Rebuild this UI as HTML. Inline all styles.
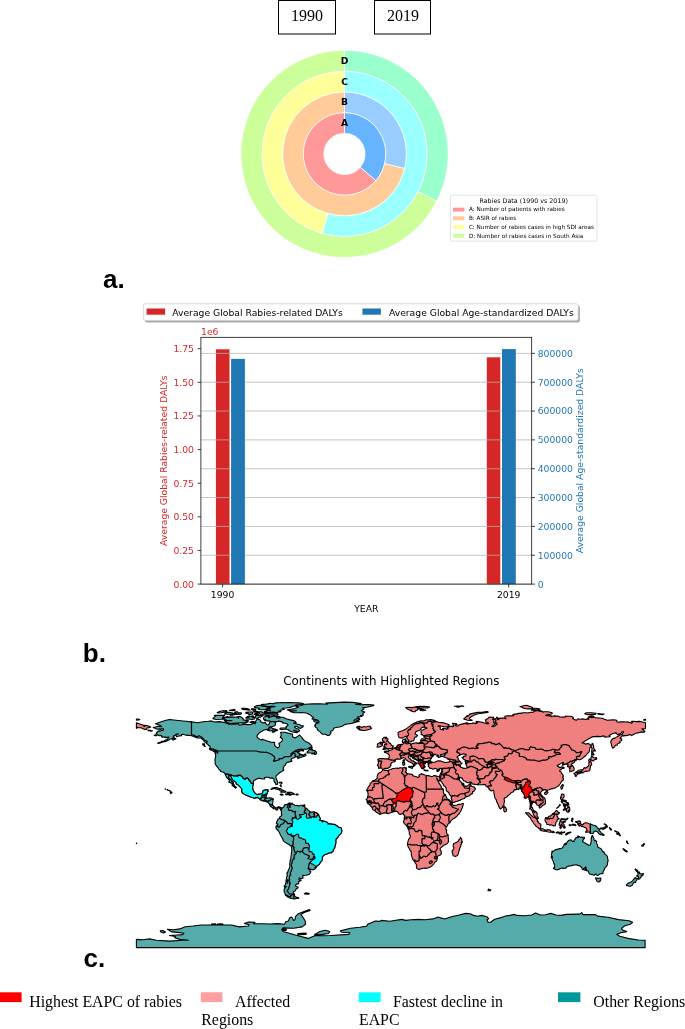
<!DOCTYPE html>
<html><head><meta charset="utf-8"><title>Rabies figure</title>
<style>
html,body{margin:0;padding:0;background:#fff;}
body{width:685px;height:1029px;overflow:hidden;position:relative;}
svg{position:absolute;left:0;top:0;display:block;}
svg text{font-family:'DejaVu Sans','Liberation Sans',sans-serif;}
.ser{font-family:'Liberation Serif','DejaVu Serif',serif;font-size:16px;fill:#000;}
.lab{font-family:'Liberation Sans','DejaVu Sans',sans-serif;font-weight:bold;font-size:26px;fill:#000;}
</style></head><body>
<svg width="685" height="1029" viewBox="0 0 685 1029">
<rect width="685" height="1029" fill="#fff"/>
<!-- year boxes -->
<rect x="278.5" y="0.5" width="57" height="33.5" fill="#fff" stroke="#000" stroke-width="1"/>
<rect x="374.5" y="0.5" width="56" height="33.5" fill="#fff" stroke="#000" stroke-width="1"/>
<text class="ser" x="307" y="21.2" text-anchor="middle">1990</text>
<text class="ser" x="403" y="21.2" text-anchor="middle">2019</text>
<!-- donut -->
<g>
<path d="M344.50 112.58A41.32 41.32 0 0 1 375.92 180.74L360.21 167.32A20.66 20.66 0 0 0 344.50 133.24Z" fill="#66b3ff" stroke="#fff" stroke-width="0.7" stroke-linejoin="round"/>
<path d="M375.92 180.74A41.32 41.32 0 1 1 344.50 112.58L344.50 133.24A20.66 20.66 0 1 0 360.21 167.32Z" fill="#ff9999" stroke="#fff" stroke-width="0.7" stroke-linejoin="round"/>
<path d="M344.50 91.92A61.98 61.98 0 0 1 404.72 168.58L384.64 163.69A41.32 41.32 0 0 0 344.50 112.58Z" fill="#99ccff" stroke="#fff" stroke-width="0.7" stroke-linejoin="round"/>
<path d="M404.72 168.58A61.98 61.98 0 1 1 344.50 91.92L344.50 112.58A41.32 41.32 0 1 0 384.64 163.69Z" fill="#ffcc99" stroke="#fff" stroke-width="0.7" stroke-linejoin="round"/>
<path d="M344.50 71.26A82.64 82.64 0 1 1 322.28 233.50L327.83 213.60A61.98 61.98 0 1 0 344.50 91.92Z" fill="#99ffff" stroke="#fff" stroke-width="0.7" stroke-linejoin="round"/>
<path d="M322.28 233.50A82.64 82.64 0 0 1 344.50 71.26L344.50 91.92A61.98 61.98 0 0 0 327.83 213.60Z" fill="#ffff99" stroke="#fff" stroke-width="0.7" stroke-linejoin="round"/>
<path d="M344.50 50.30A103.60 103.60 0 0 1 436.64 201.26L418.00 191.67A82.64 82.64 0 0 0 344.50 71.26Z" fill="#99ffcc" stroke="#fff" stroke-width="0.7" stroke-linejoin="round"/>
<path d="M436.64 201.26A103.60 103.60 0 1 1 344.50 50.30L344.50 71.26A82.64 82.64 0 1 0 418.00 191.67Z" fill="#ccff99" stroke="#fff" stroke-width="0.7" stroke-linejoin="round"/>
<text x="344.5" y="126.0" text-anchor="middle" font-family="'DejaVu Sans','Liberation Sans',sans-serif" font-weight="bold" font-size="9.2">A</text>
<text x="344.5" y="105.4" text-anchor="middle" font-family="'DejaVu Sans','Liberation Sans',sans-serif" font-weight="bold" font-size="9.2">B</text>
<text x="344.5" y="84.7" text-anchor="middle" font-family="'DejaVu Sans','Liberation Sans',sans-serif" font-weight="bold" font-size="9.2">C</text>
<text x="344.5" y="64.0" text-anchor="middle" font-family="'DejaVu Sans','Liberation Sans',sans-serif" font-weight="bold" font-size="9.2">D</text>
</g>
<!-- donut legend -->
<g font-size="5.7">
<rect x="450.5" y="195.2" width="146.4" height="46" rx="1.2" fill="#fff" stroke="#d0d0d0" stroke-width="0.6"/>
<text x="523.7" y="203.3" text-anchor="middle" font-size="6.33">Rabies Data (1990 vs 2019)</text>
<rect x="453" y="207.7" width="11.4" height="3.9" fill="#ff9999"/>
<text x="468.9" y="211.4">A: Number of patients with rabies</text>
<rect x="453" y="216.3" width="11.4" height="3.9" fill="#ffcc99"/>
<text x="468.9" y="220.1">B: ASIR of rabies</text>
<rect x="453" y="225.0" width="11.4" height="3.9" fill="#ffff99"/>
<text x="468.9" y="228.9">C: Number of rabies cases in high SDI areas</text>
<rect x="453" y="233.8" width="11.4" height="3.9" fill="#ccff99"/>
<text x="468.9" y="237.6">D: Number of rabies cases in South Asia</text>
</g>
<text class="lab" x="103.1" y="287.5">a.</text>
<!-- bar chart -->
<g>
<rect x="215.90" y="349.30" width="13.60" height="234.80" fill="#d62728"/>
<rect x="486.80" y="357.30" width="13.50" height="226.80" fill="#d62728"/>
<line x1="200.9" x2="531.7" y1="584.10" y2="584.10" stroke="#b0b0b0" stroke-width="0.75"/>
<line x1="200.9" x2="531.7" y1="555.26" y2="555.26" stroke="#b0b0b0" stroke-width="0.75"/>
<line x1="200.9" x2="531.7" y1="526.42" y2="526.42" stroke="#b0b0b0" stroke-width="0.75"/>
<line x1="200.9" x2="531.7" y1="497.58" y2="497.58" stroke="#b0b0b0" stroke-width="0.75"/>
<line x1="200.9" x2="531.7" y1="468.74" y2="468.74" stroke="#b0b0b0" stroke-width="0.75"/>
<line x1="200.9" x2="531.7" y1="439.90" y2="439.90" stroke="#b0b0b0" stroke-width="0.75"/>
<line x1="200.9" x2="531.7" y1="411.06" y2="411.06" stroke="#b0b0b0" stroke-width="0.75"/>
<line x1="200.9" x2="531.7" y1="382.22" y2="382.22" stroke="#b0b0b0" stroke-width="0.75"/>
<line x1="200.9" x2="531.7" y1="353.38" y2="353.38" stroke="#b0b0b0" stroke-width="0.75"/>
<rect x="231.10" y="358.90" width="13.80" height="225.20" fill="#1f77b4"/>
<rect x="502.00" y="349.10" width="13.80" height="235.00" fill="#1f77b4"/>
<rect x="200.9" y="337.3" width="330.80" height="246.80" fill="none" stroke="#000" stroke-width="0.75"/>
<line x1="197.6" x2="200.9" y1="584.10" y2="584.10" stroke="#000" stroke-width="0.75"/>
<text x="194.0" y="587.50" text-anchor="end" fill="#d62728" font-size="9.24">0.00</text>
<line x1="197.6" x2="200.9" y1="550.47" y2="550.47" stroke="#000" stroke-width="0.75"/>
<text x="194.0" y="553.87" text-anchor="end" fill="#d62728" font-size="9.24">0.25</text>
<line x1="197.6" x2="200.9" y1="516.84" y2="516.84" stroke="#000" stroke-width="0.75"/>
<text x="194.0" y="520.24" text-anchor="end" fill="#d62728" font-size="9.24">0.50</text>
<line x1="197.6" x2="200.9" y1="483.21" y2="483.21" stroke="#000" stroke-width="0.75"/>
<text x="194.0" y="486.61" text-anchor="end" fill="#d62728" font-size="9.24">0.75</text>
<line x1="197.6" x2="200.9" y1="449.58" y2="449.58" stroke="#000" stroke-width="0.75"/>
<text x="194.0" y="452.98" text-anchor="end" fill="#d62728" font-size="9.24">1.00</text>
<line x1="197.6" x2="200.9" y1="415.95" y2="415.95" stroke="#000" stroke-width="0.75"/>
<text x="194.0" y="419.35" text-anchor="end" fill="#d62728" font-size="9.24">1.25</text>
<line x1="197.6" x2="200.9" y1="382.32" y2="382.32" stroke="#000" stroke-width="0.75"/>
<text x="194.0" y="385.72" text-anchor="end" fill="#d62728" font-size="9.24">1.50</text>
<line x1="197.6" x2="200.9" y1="348.69" y2="348.69" stroke="#000" stroke-width="0.75"/>
<text x="194.0" y="352.09" text-anchor="end" fill="#d62728" font-size="9.24">1.75</text>
<line x1="531.7" x2="535.0" y1="584.10" y2="584.10" stroke="#000" stroke-width="0.75"/>
<text x="537.7" y="587.50" fill="#1f77b4" font-size="9.24">0</text>
<line x1="531.7" x2="535.0" y1="555.26" y2="555.26" stroke="#000" stroke-width="0.75"/>
<text x="537.7" y="558.66" fill="#1f77b4" font-size="9.24">100000</text>
<line x1="531.7" x2="535.0" y1="526.42" y2="526.42" stroke="#000" stroke-width="0.75"/>
<text x="537.7" y="529.82" fill="#1f77b4" font-size="9.24">200000</text>
<line x1="531.7" x2="535.0" y1="497.58" y2="497.58" stroke="#000" stroke-width="0.75"/>
<text x="537.7" y="500.98" fill="#1f77b4" font-size="9.24">300000</text>
<line x1="531.7" x2="535.0" y1="468.74" y2="468.74" stroke="#000" stroke-width="0.75"/>
<text x="537.7" y="472.14" fill="#1f77b4" font-size="9.24">400000</text>
<line x1="531.7" x2="535.0" y1="439.90" y2="439.90" stroke="#000" stroke-width="0.75"/>
<text x="537.7" y="443.30" fill="#1f77b4" font-size="9.24">500000</text>
<line x1="531.7" x2="535.0" y1="411.06" y2="411.06" stroke="#000" stroke-width="0.75"/>
<text x="537.7" y="414.46" fill="#1f77b4" font-size="9.24">600000</text>
<line x1="531.7" x2="535.0" y1="382.22" y2="382.22" stroke="#000" stroke-width="0.75"/>
<text x="537.7" y="385.62" fill="#1f77b4" font-size="9.24">700000</text>
<line x1="531.7" x2="535.0" y1="353.38" y2="353.38" stroke="#000" stroke-width="0.75"/>
<text x="537.7" y="356.78" fill="#1f77b4" font-size="9.24">800000</text>
<line x1="222.6" x2="222.6" y1="584.1" y2="587.4" stroke="#000" stroke-width="0.75"/>
<text x="222.6" y="597.60" text-anchor="middle" font-size="9.24">1990</text>
<line x1="508.7" x2="508.7" y1="584.1" y2="587.4" stroke="#000" stroke-width="0.75"/>
<text x="508.7" y="597.60" text-anchor="middle" font-size="9.24">2019</text>
<text x="201" y="334.5" fill="#d62728" font-size="9.24">1e6</text>
<text x="366.3" y="611.5" text-anchor="middle" font-size="9.24">YEAR</text>
<text transform="translate(167.2 460.7) rotate(-90)" text-anchor="middle" fill="#d62728" font-size="9.24">Average Global Rabies-related DALYs</text>
<text transform="translate(583.0 460.7) rotate(-90)" text-anchor="middle" fill="#1f77b4" font-size="9.24">Average Global Age-standardized DALYs</text>
<rect x="145" y="305.7" width="434.9" height="16.8" rx="2" fill="#a9a9a9"/>
<rect x="143.3" y="303.8" width="434.8" height="16.6" rx="2" fill="#fff" stroke="#ccc" stroke-width="0.75"/>
<rect x="146.60" y="308.50" width="18.50" height="6.20" fill="#d62728"/>
<text x="172.2" y="315.5" font-size="9.24">Average Global Rabies-related DALYs</text>
<rect x="362.40" y="308.50" width="18.50" height="6.20" fill="#1f77b4"/>
<text x="388.9" y="315.5" font-size="9.24">Average Global Age-standardized DALYs</text>
</g>
<text class="lab" x="82.8" y="661.8">b.</text>
<!-- map -->
<text x="391.3" y="684.5" text-anchor="middle" font-size="11.9">Continents with Highlighted Regions</text>
<g id="map">
<path d="M153.4 727.5L158.3 726.3L161.8 726.7L159.7 725.3L155.5 723.7L160.4 722.0L166.1 720.2L169.6 719.5L176.0 720.2L183.1 721.0L191.5 721.9L197.9 722.7L201.4 722.0L208.5 721.3L211.3 720.9L214.2 722.0L219.8 721.6L225.5 722.7L228.3 724.1L235.4 724.3L238.2 723.7L239.6 725.3L243.9 724.1L247.4 724.6L251.7 724.4L252.4 723.0L255.2 723.9L255.2 722.0L257.3 718.8L260.1 719.9L260.8 721.7L263.0 723.0L265.1 722.4L266.5 724.4L267.9 725.1L269.3 723.9L270.0 721.7L274.3 721.7L275.7 723.0L275.0 725.5L272.2 726.7L269.3 726.7L268.6 729.1L265.8 729.6L263.0 730.5L259.4 732.8L257.3 735.2L257.0 737.1L259.7 739.4L260.4 739.7L263.0 739.4L266.5 740.7L270.7 742.1L274.6 742.4L274.7 745.5L276.1 746.9L278.1 747.9L279.7 746.2L278.9 743.5L281.8 741.4L282.6 739.0L280.2 737.3L281.3 735.2L280.6 732.2L284.9 732.2L289.8 733.6L292.4 734.0L292.7 736.9L295.2 738.0L298.3 735.9L299.6 735.0L301.9 737.6L304.0 740.4L306.1 741.8L308.9 742.9L310.3 744.4L312.0 746.1L309.9 747.6L306.8 749.2L303.3 749.3L299.0 749.3L296.2 750.3L293.4 751.9L290.5 754.1L294.1 751.9L299.0 750.7L299.9 751.4L297.3 752.4L299.3 753.5L299.6 755.0L303.3 755.5L305.4 753.8L306.1 755.2L304.4 756.2L301.1 757.2L297.9 758.6L297.3 757.5L299.3 756.1L296.2 756.5L294.1 757.7L291.7 758.6L290.8 759.9L292.0 761.2L290.3 761.6L287.0 762.5L286.3 763.3L285.2 765.1L284.2 765.9L283.6 767.7L283.0 768.0L283.8 770.0L282.1 771.4L279.9 772.5L277.8 774.3L276.1 775.8L275.8 777.6L277.1 780.4L277.7 782.4L277.4 784.5L276.1 784.7L275.3 783.1L274.0 781.1L274.0 779.3L272.4 777.9L270.3 778.3L268.6 777.3L266.1 777.3L264.4 777.6L264.7 779.0L262.5 779.0L260.1 778.4L258.0 778.4L256.2 779.3L253.8 780.7L253.2 782.1L253.5 783.7L252.8 785.9L252.6 788.5L253.3 790.9L254.8 793.0L255.9 793.9L257.3 794.6L259.7 794.1L261.7 793.7L262.7 792.7L263.1 790.6L265.8 789.9L267.9 789.9L268.2 790.9L267.2 792.4L266.8 794.3L266.1 794.3L266.4 795.6L266.1 797.0L265.2 797.8L266.2 798.1L267.9 798.0L269.6 797.8L271.5 798.0L273.3 799.1L272.9 801.2L272.7 802.9L272.4 804.7L273.6 806.2L274.7 807.3L275.7 807.9L277.1 807.4L278.4 806.7L279.9 807.0L281.5 808.0L280.8 810.1L280.1 808.8L279.1 807.6L278.2 808.1L277.2 808.6L277.8 809.7L276.5 810.1L275.4 808.8L273.7 808.7L272.7 808.0L271.2 806.7L270.6 806.7L269.8 805.0L269.8 804.6L267.9 802.3L266.9 801.9L265.4 801.5L263.5 800.9L261.8 800.6L260.6 799.8L258.2 797.7L257.0 797.4L254.5 798.1L252.4 797.5L250.0 796.7L247.1 795.4L244.6 794.4L242.5 793.0L241.5 791.5L242.0 790.0L241.5 788.5L239.8 786.6L237.7 784.7L236.2 783.8L236.2 782.5L234.7 781.4L233.7 780.8L232.3 779.3L231.0 776.7L231.0 776.2L228.6 775.3L228.7 777.6L230.7 779.6L231.4 781.0L233.1 782.5L233.5 784.0L234.4 785.9L236.2 787.5L235.4 787.9L234.1 786.4L232.3 785.4L232.3 783.5L230.4 782.4L229.0 782.0L229.4 780.6L229.4 779.9L227.6 778.4L225.9 775.6L225.3 774.3L225.1 773.5L223.5 772.2L220.7 771.5L220.4 770.5L218.8 769.1L217.7 767.3L216.0 765.3L215.0 763.3L215.3 762.2L214.9 759.8L215.6 757.2L215.7 755.0L215.4 754.0L214.6 752.1L216.9 752.3L217.6 753.4L218.0 752.4L217.3 751.0L217.0 750.6L214.3 749.6L213.3 749.0L210.8 748.5L209.9 747.2L210.1 746.3L208.4 745.6L208.1 744.5L206.4 743.5L206.4 742.8L205.5 742.2L204.3 741.8L203.9 740.5L202.2 739.4L201.3 738.1L200.0 738.0L197.8 738.0L196.1 737.6L193.1 736.2L189.3 735.3L187.3 735.4L184.6 734.7L182.9 734.2L181.4 734.5L181.6 735.6L179.2 735.9L178.0 736.3L176.4 736.6L176.1 734.5L178.4 733.9L176.1 734.2L175.1 735.3L173.2 736.3L174.2 737.0L172.9 738.1L171.3 738.7L169.9 739.1L169.5 739.7L167.4 740.4L166.9 741.1L165.2 741.7L164.3 741.7L163.0 742.0L161.6 742.5L160.3 742.9L157.9 743.4L157.7 743.1L159.3 742.5L160.6 742.1L162.1 741.2L163.8 741.1L164.5 740.5L166.5 739.7L166.8 739.4L167.9 738.8L168.1 737.9L168.9 737.0L167.2 737.4L166.8 737.1L166.0 737.7L165.1 737.0L164.7 737.4L164.1 736.7L162.7 737.3L161.8 737.3L161.7 736.4L162.0 736.0L161.1 735.4L159.3 735.7L158.0 735.0L157.2 734.7L157.0 733.9L156.1 733.3L156.6 732.5L157.7 731.8L158.2 731.1L159.3 730.9L160.3 731.1L161.4 730.5L162.6 730.5L163.5 730.1L163.3 729.5L162.6 729.2L163.5 728.7L162.7 728.7L161.1 728.9L160.7 729.4L159.7 728.9L157.7 729.2L155.6 728.8L155.1 728.2L153.2 727.4ZM287.7 709.7L294.8 708.6L298.3 707.2L296.2 706.5L301.1 705.5L304.7 704.3L313.2 703.9L320.2 703.8L327.3 704.2L325.9 703.1L334.4 702.6L344.3 702.1L352.8 702.4L361.3 703.5L355.6 704.3L359.8 704.8L368.3 704.6L374.0 705.0L373.3 705.7L366.9 707.2L362.7 707.6L364.1 708.9L361.3 710.7L364.8 712.0L362.7 713.5L363.4 715.2L360.5 715.5L362.0 716.5L357.7 716.8L359.4 718.2L356.3 718.2L359.8 719.3L357.7 720.6L354.9 719.5L353.8 721.0L357.3 721.2L359.4 721.2L355.6 722.3L351.8 723.4L347.5 724.0L344.6 724.6L342.6 726.0L339.6 727.0L337.9 727.2L334.7 727.8L333.4 728.7L333.4 729.6L332.7 730.5L330.4 731.6L331.0 732.8L329.6 735.3L327.6 735.4L325.5 734.2L322.6 734.2L321.4 733.5L320.4 732.1L318.0 730.4L317.3 729.4L317.0 728.1L315.0 726.8L315.6 725.8L314.6 725.3L316.0 723.6L318.1 723.1L318.8 722.6L319.0 721.4L316.7 722.3L314.6 722.0L313.6 720.9L314.2 720.2L315.4 720.2L318.3 720.5L315.9 719.6L314.6 719.2L313.2 719.3L312.0 718.9L313.6 717.6L312.7 717.1L311.6 716.2L309.9 714.7L308.1 714.1L308.1 713.5L304.3 712.7L301.3 712.5L297.5 712.7L294.1 712.7L292.4 712.3L290.0 711.4L293.7 711.0L296.5 710.8L290.5 710.6L287.3 710.0ZM281.5 808.0L282.3 808.1L283.3 807.1L283.9 807.0L284.2 805.3L285.0 804.6L285.9 804.6L287.1 804.5L288.8 803.3L289.4 802.8L290.0 802.8L290.4 803.2L289.3 804.2L289.7 804.7L289.7 805.6L289.0 806.3L289.6 807.4L290.1 807.4L290.5 806.3L290.0 805.9L290.0 804.7L291.7 804.2L291.5 803.6L292.1 803.0L292.5 804.0L293.5 804.2L294.5 804.9L294.5 805.3L295.8 805.5L297.3 805.3L298.0 805.9L299.2 806.0L300.0 805.6L300.0 805.3L303.4 805.2L302.3 805.6L302.7 806.3L303.8 806.3L305.0 807.0L305.1 808.1L305.8 808.1L306.4 808.4L307.4 809.0L308.2 810.0L308.2 810.7L308.8 810.7L309.6 811.4L310.2 811.8L311.9 812.1L312.0 812.0L313.2 811.8L314.6 812.1L315.1 812.4L316.1 812.7L317.7 813.8L317.8 814.4L318.4 814.4L318.7 815.1L319.5 817.6L320.2 817.9L320.4 818.9L319.3 820.0L319.7 820.4L322.2 820.6L322.2 822.0L323.4 821.1L325.0 821.6L327.5 822.6L328.2 823.3L327.9 824.1L329.6 823.7L332.3 824.4L334.4 824.4L336.5 825.5L338.3 827.1L339.3 827.5L340.6 827.5L341.2 828.1L341.6 829.8L341.9 830.6L341.3 833.0L340.6 833.9L338.6 835.9L337.6 837.6L336.6 838.7L336.2 838.8L335.8 839.8L335.9 842.5L335.5 844.6L334.9 846.2L334.7 848.0L333.3 849.9L333.1 851.3L331.8 852.0L331.6 852.8L330.0 852.8L327.9 853.4L326.7 854.0L325.2 854.4L323.6 855.5L322.4 856.9L322.2 857.9L322.4 858.8L322.1 860.2L321.8 860.9L320.8 861.6L319.3 864.1L318.0 865.3L317.0 865.8L316.4 867.3L315.4 868.1L314.9 868.9L313.3 869.8L312.2 869.5L311.5 869.7L310.2 868.9L309.2 869.1L308.4 868.2L308.2 868.9L310.1 870.2L309.8 871.2L310.8 871.8L310.6 872.5L309.4 874.3L307.2 875.0L304.4 875.5L302.8 875.2L303.1 876.0L302.8 877.2L303.1 877.9L302.3 878.3L300.7 878.6L299.5 878.0L298.9 878.4L299.0 879.8L300.0 880.3L300.7 879.7L301.1 880.5L299.9 881.0L298.7 881.8L298.6 883.2L298.2 883.9L296.9 883.9L295.8 884.8L295.4 885.8L296.8 886.8L298.2 887.1L297.6 888.3L295.9 889.2L295.1 890.9L293.8 891.4L293.2 892.0L293.7 893.6L294.6 894.3L293.9 894.3L292.9 894.5L290.8 895.1L290.0 896.5L290.5 896.4L290.4 896.8L288.6 896.2L286.7 895.0L285.0 894.3L284.9 893.3L284.0 891.6L284.2 889.2L286.2 886.6L284.6 887.8L285.3 886.6L284.0 886.2L285.3 885.1L285.7 882.7L287.4 883.2L288.1 880.3L287.1 879.8L286.7 881.7L285.9 881.4L286.3 879.4L286.7 876.7L287.4 875.9L287.0 874.5L286.9 872.9L287.4 872.8L288.3 870.5L289.3 868.2L290.0 866.1L289.6 864.0L290.0 862.9L290.0 861.2L290.7 859.3L291.0 856.6L291.4 853.7L291.8 850.6L291.7 848.3L291.4 846.2L290.0 845.5L289.8 844.9L287.1 843.5L284.6 841.9L283.5 840.9L282.9 839.8L283.0 839.4L281.9 837.6L280.5 835.0L279.2 832.2L278.7 831.5L278.1 830.5L277.1 829.5L276.1 828.9L276.5 828.4L275.8 826.9L276.3 826.0L277.4 825.1L277.8 824.5L278.1 824.1L277.2 824.1L276.4 823.4L276.7 823.1L276.5 821.9L277.0 821.6L277.2 820.7L277.8 819.7L277.7 819.2L278.5 818.9L279.4 818.3L279.8 817.8L279.7 817.0L280.1 816.6L280.8 816.5L281.9 814.9L281.3 814.5L281.6 813.7L281.3 812.4L281.6 812.1L281.3 810.8L280.8 810.1ZM293.9 894.7L294.4 895.4L295.1 896.5L296.9 897.4L298.9 897.7L298.3 898.4L296.9 898.5L296.2 898.5L294.6 898.9L293.9 898.9L293.1 898.8L292.0 898.4L290.5 898.2L288.7 897.4L287.3 896.7L285.3 895.0L286.6 895.3L288.6 896.2L290.4 896.8L291.1 896.1L291.5 895.1L292.9 894.5ZM304.4 893.7L306.1 892.8L307.2 893.0L309.2 893.3L308.8 894.3L306.9 894.1L306.2 893.7L305.1 894.3ZM136.4 939.2L136.8 939.4L143.1 939.8L149.7 938.9L156.3 940.2L169.4 941.1L182.6 940.2L188.5 940.2L179.9 939.4L174.7 937.8L175.3 936.5L169.4 935.5L177.3 935.0L182.6 934.6L183.9 933.2L179.9 932.6L172.0 931.9L167.4 929.3L173.4 929.7L179.9 928.9L185.2 926.7L193.1 926.0L200.9 925.0L205.0 925.0L222.1 924.7L231.3 925.0L239.2 926.9L248.4 926.0L249.0 924.7L244.4 923.4L248.4 922.1L254.9 922.3L253.6 923.7L262.8 923.7L270.0 924.0L277.9 923.6L284.5 924.3L285.8 921.7L288.4 921.0L289.7 917.7L291.7 917.1L293.6 920.4L295.0 919.7L295.6 916.4L298.2 913.8L302.8 912.1L309.4 909.5L310.1 910.5L304.2 912.5L300.9 914.5L302.8 917.1L305.2 921.0L305.5 924.3L302.2 926.9L293.6 928.2L283.1 927.9L281.8 929.6L283.1 931.5L296.3 935.2L308.1 938.4L314.7 935.7L322.6 935.7L330.4 935.5L348.8 934.4L349.9 932.8L341.6 932.2L340.3 930.9L350.5 928.2L359.7 927.3L366.3 926.3L368.2 923.9L375.5 921.0L379.4 921.4L381.4 920.4L389.9 921.3L401.8 919.4L405.7 920.4L410.9 919.7L418.8 919.4L425.0 919.7L432.9 918.9L438.1 917.1L444.7 919.0L451.3 916.7L459.2 915.0L465.7 913.4L470.3 913.7L473.6 915.4L477.6 916.3L481.5 915.4L486.8 916.7L488.7 918.6L487.0 920.0L488.1 922.3L490.7 922.3L494.6 919.3L501.2 917.6L506.5 915.8L510.0 915.4L514.6 914.4L516.6 915.4L524.5 915.8L531.7 915.0L535.6 913.1L540.2 915.0L545.5 914.7L550.7 913.4L556.0 915.0L561.2 915.4L566.5 914.4L579.6 914.1L581.7 912.6L583.0 914.6L595.2 914.5L597.5 916.1L608.0 917.3L618.5 919.6L629.1 920.8L632.6 922.3L630.2 924.3L624.4 926.0L621.5 928.4L622.6 930.1L626.7 931.6L620.9 932.8L616.8 934.2L619.7 936.3L629.1 938.6L638.4 940.0L645.1 940.3L645.1 947.6L136.4 947.6ZM314.7 934.4L319.9 931.5L325.2 930.2L329.8 931.5L328.5 933.5L322.6 934.4L314.7 934.9ZM297.6 933.5L306.1 933.1L306.1 934.4L298.2 934.8ZM283.1 929.2L286.4 929.6L286.0 930.5L283.1 930.2ZM160.2 930.9L162.8 930.6L165.5 931.9L163.5 932.9L160.9 931.9ZM211.5 924.1L215.4 923.8L216.1 924.5L212.1 924.6ZM217.5 924.0L222.5 923.8L223.0 924.5L218.0 924.6ZM277.8 716.1L280.6 717.2L283.0 717.3L286.0 718.8L290.3 719.9L293.7 720.6L294.9 721.2L296.2 722.4L293.7 723.1L297.0 724.0L299.2 724.4L301.3 725.7L303.4 725.7L303.0 726.7L300.6 728.4L298.9 727.8L296.6 726.4L294.8 726.5L294.6 727.4L296.1 728.2L298.0 728.9L298.6 729.2L299.5 730.6L299.0 731.6L297.2 731.3L293.7 730.2L295.6 731.3L297.2 732.2L297.3 732.8L293.5 732.2L290.5 731.3L288.8 730.6L289.3 730.2L287.1 729.5L285.2 728.8L285.2 729.2L281.1 729.5L279.8 728.9L280.8 728.0L283.5 728.0L286.3 727.7L285.9 727.0L286.4 726.5L288.1 725.1L287.9 724.6L287.3 724.0L285.2 723.3L282.2 722.9L283.2 722.6L281.6 721.6L280.4 721.6L279.2 721.0L278.5 721.4L276.0 721.7L270.9 721.3L267.8 720.9L265.5 720.7L264.4 720.2L265.8 719.6L263.8 719.6L263.4 718.2L264.5 716.9L265.9 716.4L269.6 715.9L268.5 717.3L269.3 717.8L270.9 716.6L274.6 715.9L277.0 717.5L276.8 718.3L279.5 717.9L280.9 717.5L276.5 716.6L276.7 716.1ZM226.2 722.2L229.9 723.6L236.8 723.0L240.3 722.9L243.4 722.9L246.7 722.6L247.4 721.4L245.3 720.6L248.1 720.9L248.3 721.3L245.7 722.0L248.0 721.9L247.4 722.0L248.3 720.5L243.2 719.9L243.2 718.8L241.9 717.5L239.8 716.4L237.9 716.9L238.6 718.3L237.7 716.9L235.4 717.2L234.1 717.1L229.4 716.9L228.7 717.5L224.2 717.5L228.0 716.6L222.4 719.0L224.5 719.5L227.0 720.3L232.0 720.7L229.2 720.5L224.2 720.6L226.8 722.4ZM212.9 718.6L216.2 719.5L220.5 719.3L222.7 719.0L228.0 716.6L224.2 717.5L222.4 717.8L224.6 715.4L221.1 715.4L214.3 715.2L215.6 716.1L214.3 717.1L212.9 718.6ZM224.5 714.0L226.5 712.5L227.8 712.1L231.7 712.7L234.3 713.5L236.7 713.5L234.7 712.3L236.0 711.7L237.5 711.8L237.9 712.5L238.5 713.1L239.8 712.8L241.2 712.8L241.5 713.5L240.6 714.2L235.8 714.4L232.3 715.1L230.2 715.1L229.9 714.7L232.8 714.0L226.5 714.2ZM249.0 715.9L247.4 716.5L249.0 717.5L246.8 717.1L245.9 717.8L246.6 718.9L250.5 719.3L251.8 719.5L254.5 719.0L254.2 718.5L254.5 717.6L251.8 716.9L253.6 716.4L253.2 715.9L250.7 716.2L249.0 715.9ZM259.1 717.3L257.6 718.5L256.0 718.3L255.2 717.2L255.2 716.5L255.9 715.8L257.3 715.5L260.3 715.5L263.0 715.8L260.8 717.1L259.1 717.3ZM257.0 711.3L258.6 711.7L261.4 711.7L262.7 712.3L262.3 712.7L264.0 713.1L264.8 713.4L266.8 713.4L268.8 713.5L271.0 713.2L273.9 713.1L276.3 713.2L277.7 713.8L278.1 714.4L277.1 714.7L275.1 715.1L273.3 714.8L269.2 715.1L266.2 715.1L264.0 714.9L260.3 714.5L259.7 713.7L259.6 713.0L258.2 712.4L255.2 712.3L253.6 711.7L254.2 711.1ZM251.7 711.8L252.8 712.4L252.8 713.2L252.1 714.2L249.8 714.4L248.3 714.1L248.3 713.4L246.0 713.4L245.9 712.4L249.0 712.0L251.5 712.0ZM283.6 708.2L283.2 708.6L284.3 709.3L283.0 709.7L280.8 710.1L280.1 710.7L278.1 711.1L278.4 711.4L280.8 711.4L280.8 711.7L277.0 712.5L273.3 712.1L269.2 712.4L267.1 712.3L264.4 712.1L264.2 711.5L266.8 711.1L266.1 710.1L266.9 710.0L270.7 710.7L268.9 709.7L266.5 709.4L267.6 708.9L270.2 708.6L270.6 708.2L268.6 707.6L268.1 706.7L271.9 706.9L273.0 707.0L275.3 706.5L272.0 706.3L267.1 706.5L264.5 705.9L263.4 705.3L261.7 704.9L261.4 704.5L263.5 704.2L265.2 704.2L267.9 703.9L270.0 703.3L271.7 703.5L273.3 703.9L274.4 703.1L276.3 702.9L278.8 702.8L283.0 702.6L283.9 702.8L288.0 702.6L291.0 702.6L294.1 702.8L297.9 702.9L300.9 703.1L303.4 703.5L303.4 703.8L300.0 704.5L296.5 704.8L295.2 705.0L298.3 705.0L295.1 705.9L292.7 706.3L290.3 707.4L287.4 707.7L286.4 708.0L282.2 708.2ZM255.2 706.3L256.2 705.9L257.6 705.8L257.0 705.5L260.3 705.3L262.1 706.2L264.4 706.5L266.8 706.7L267.9 707.6L269.6 708.2L267.6 708.6L265.1 709.6L262.5 709.7L259.6 709.6L258.1 708.9L258.2 708.4L259.3 708.0L256.6 708.0L255.0 707.6L254.2 706.9ZM270.5 727.4L270.8 728.1L271.5 727.8L272.3 728.2L273.9 728.7L275.6 729.1L275.6 729.8L276.7 729.6L277.7 730.2L276.4 730.6L274.3 730.2L273.4 729.6L272.0 730.4L270.0 731.1L269.5 730.4L267.6 730.5L268.8 729.8L269.0 728.7L269.5 727.4ZM312.3 747.8L311.6 748.6L310.6 749.9L311.6 749.3L312.5 749.7L312.0 750.2L313.3 750.6L313.9 750.2L315.3 750.7L314.9 751.7L315.9 751.4L316.1 752.1L316.6 753.1L315.9 754.3L315.3 754.4L314.3 754.1L314.6 753.0L314.3 752.7L312.6 754.0L311.8 754.0L312.7 753.3L311.3 753.0L309.9 753.0L307.1 753.0L306.9 752.6L307.8 752.0L307.2 751.7L308.4 750.9L309.8 748.6L310.8 747.8L311.9 747.3ZM216.3 751.7L215.6 751.9L213.2 751.3L212.8 750.7L211.5 750.3L211.3 749.9L209.8 749.6L209.4 748.9L209.4 748.5L210.9 748.7L211.8 749.0L213.0 749.2L213.6 749.6L214.3 750.3L215.7 750.9L216.3 751.7ZM202.6 743.7L203.3 743.9L204.7 743.8L204.3 745.3L205.4 746.5L204.8 746.5L204.0 745.9L203.6 745.2L202.7 744.8L202.6 743.7ZM174.6 739.5L173.2 740.1L172.5 739.7L172.2 739.0L173.4 738.6L174.3 738.3L175.1 738.4L175.9 738.8L174.6 739.5ZM274.6 787.5L275.8 787.6L277.0 787.6L278.2 788.1L278.8 788.6L280.2 788.5L280.7 788.8L281.9 789.6L282.8 790.3L283.2 790.3L284.0 790.6L283.9 791.0L285.0 791.0L286.0 791.6L285.9 791.9L284.9 792.2L284.0 792.2L283.0 792.1L280.9 792.2L281.9 791.5L281.3 791.0L280.5 791.0L279.9 790.6L279.7 789.8L278.8 789.8L277.5 789.5L277.1 789.2L275.3 788.9L274.7 788.6L275.3 788.3L273.9 788.2L272.9 788.9L272.3 788.9L272.0 789.3L271.5 789.5L270.8 789.3L271.6 788.9L271.9 788.3L272.4 788.1L273.1 787.8L274.3 787.6ZM287.4 792.2L288.3 792.2L289.6 792.4L289.7 792.2L290.8 792.2L291.7 792.6L292.0 792.6L292.2 793.0L293.1 793.0L292.9 793.4L293.7 793.5L294.4 794.0L293.8 794.6L293.1 794.3L292.5 794.3L292.0 794.3L291.8 794.6L291.2 794.6L291.0 794.3L290.5 794.4L290.0 795.4L289.6 795.1L289.6 794.8L288.6 794.6L287.0 794.6L286.4 794.8L285.6 794.4L285.7 793.9L288.1 794.3L288.7 793.9L288.0 793.3L288.0 792.7L287.1 792.6L287.4 792.2ZM281.2 794.1L282.2 794.3L282.9 794.6L283.2 795.0L282.2 795.0L281.8 795.3L280.9 795.0L280.2 794.6L280.4 794.1L280.9 794.1ZM297.2 794.1L297.9 794.3L298.2 794.6L297.9 794.9L296.8 794.9L295.9 795.0L295.9 794.3L296.1 794.1L297.2 794.1ZM281.3 786.6L280.9 786.8L280.6 785.9L280.1 785.5L280.4 784.7L280.8 784.7L281.3 785.9ZM280.9 782.7L279.4 783.0L279.3 782.4L279.9 782.3L280.9 782.4ZM282.1 782.7L281.8 783.7L281.5 783.5L281.6 782.8L280.9 782.3L280.9 782.1L282.1 782.7ZM303.7 805.0L304.5 804.9L304.8 804.9L304.8 806.0L303.6 806.2L303.3 806.0L303.7 805.6L303.7 805.0ZM171.0 793.3L170.8 793.6L170.5 793.3L170.5 793.0L170.2 792.4L170.5 791.7L170.5 791.6L171.5 792.0L171.6 792.2L172.0 792.7L171.5 793.1ZM169.2 790.3L168.5 790.5L168.5 790.3L169.2 790.3ZM167.5 789.6L167.9 790.2L167.4 790.2L167.1 789.8L167.5 789.6ZM165.5 788.9L165.7 789.2L165.0 789.0L165.2 788.9ZM169.5 790.6L169.9 790.7L170.3 790.9L170.2 791.2L169.8 791.2L169.3 790.7ZM594.0 839.8L594.5 840.8L595.4 840.4L596.6 841.5L596.4 842.1L596.7 843.4L596.9 844.1L597.7 845.5L597.6 846.2L598.0 847.2L599.5 847.9L600.5 848.5L601.4 849.1L601.2 849.4L602.1 850.4L602.7 851.8L603.2 851.6L603.8 852.3L604.1 852.0L604.4 853.5L605.3 854.4L606.0 854.9L607.2 856.1L607.5 857.2L607.6 857.9L607.5 858.9L608.2 860.0L608.0 861.3L607.7 862.0L607.5 863.3L607.5 864.0L607.2 865.0L606.6 866.4L605.5 867.0L604.9 868.1L604.5 868.8L604.1 870.1L603.5 870.8L603.2 871.8L602.9 872.8L603.1 873.2L602.2 873.8L600.7 873.8L599.4 874.3L598.7 874.9L597.8 875.5L596.7 874.9L595.9 874.6L596.0 873.9L595.3 874.2L594.0 875.2L592.8 874.7L592.0 874.6L591.2 874.5L589.8 874.0L588.9 873.2L588.7 872.1L588.4 871.2L587.7 870.8L586.3 870.6L586.7 869.9L586.4 868.9L585.7 869.9L584.4 870.2L585.3 869.4L585.4 868.5L586.0 867.8L585.8 866.8L584.7 868.1L583.8 868.5L583.3 869.7L582.1 869.1L582.1 868.2L581.3 867.3L580.6 866.7L580.9 866.4L579.0 865.6L578.0 865.5L576.6 864.8L574.1 865.0L572.3 865.4L570.7 866.0L569.3 865.8L567.9 866.5L566.6 866.9L566.3 867.7L565.9 868.2L564.6 868.2L563.8 868.4L562.5 868.1L561.5 868.2L560.5 868.4L559.7 869.1L559.2 869.1L558.5 869.4L557.8 869.9L556.8 869.8L555.8 869.8L554.4 868.9L553.6 868.7L553.6 867.8L554.3 867.7L554.6 867.4L554.6 866.8L554.7 865.8L554.6 865.0L553.9 863.6L553.6 862.7L553.6 862.0L553.0 861.0L553.0 860.6L552.5 860.0L552.2 858.9L551.5 857.8L551.2 857.2L551.9 857.8L551.3 856.5L552.0 856.9L552.5 857.5L552.5 856.8L551.7 855.7L551.6 855.2L551.3 854.8L551.5 854.0L551.7 853.7L551.9 852.1L551.7 852.1L552.3 851.1L552.5 852.1L553.0 851.1L554.3 850.7L554.9 850.1L556.0 849.6L556.7 849.4L557.0 849.6L558.1 849.1L559.0 849.0L559.2 848.6L559.7 848.5L560.4 848.6L561.9 848.2L562.6 847.5L563.1 846.7L563.8 846.0L563.9 845.5L563.9 844.8L564.9 843.5L565.5 844.8L566.2 844.5L565.6 843.8L566.0 843.1L566.7 843.4L566.9 842.4L567.6 841.7L568.0 841.1L568.7 840.8L568.7 840.4L569.3 840.5L569.3 840.2L570.7 839.8L571.7 840.5L572.5 841.4L573.4 841.4L574.2 841.5L573.9 840.7L574.7 839.5L575.2 839.3L575.1 838.8L575.6 838.0L576.5 837.6L577.2 837.7L578.5 837.4L578.5 836.7L577.3 836.3L578.2 836.0L579.0 836.4L579.9 837.0L581.0 837.3L581.4 837.1L582.3 837.6L583.1 837.2L583.7 837.3L584.0 837.1L584.6 837.8L584.3 838.5L583.7 839.1L583.2 839.1L583.4 839.7L583.0 840.4L582.4 841.1L582.6 841.5L583.7 842.4L584.8 842.8L585.5 843.2L586.5 844.1L587.0 844.1L587.7 844.5L587.9 844.9L589.2 845.3L590.2 844.9L590.5 844.1L590.8 843.5L590.9 842.6L591.3 841.5L591.2 840.9L591.2 840.5L591.1 839.7L591.3 838.5L591.5 838.3L591.3 837.8L591.6 837.1L591.9 836.3L591.9 835.9L592.5 835.4L592.9 836.1L593.0 837.0L593.3 837.1L593.5 837.7L593.9 838.4L594.0 839.3L594.0 839.8ZM596.6 878.0L598.0 878.4L598.7 878.3L599.8 878.0L600.7 878.1L600.8 879.8L600.3 880.3L600.1 881.4L599.7 881.0L598.7 882.0L598.4 882.0L597.4 881.8L596.6 880.7L596.4 879.7L595.6 878.6L595.6 877.9L596.6 878.0ZM635.6 869.1L636.5 869.8L637.4 870.2L637.9 871.5L638.9 872.9L639.0 871.9L639.6 872.3L639.8 873.5L641.0 873.9L641.8 874.0L642.7 873.5L643.4 873.6L643.1 874.9L642.6 875.7L641.5 875.6L641.1 876.0L641.3 876.7L641.1 877.0L639.8 878.7L638.7 879.3L638.6 878.8L638.0 878.7L638.7 877.6L638.3 876.7L636.7 876.2L636.9 875.6L637.9 875.2L638.0 874.0L638.0 873.2L637.4 872.2L637.4 871.9L636.7 871.4L635.7 870.1L635.0 869.1L635.6 869.1ZM635.6 878.1L635.9 878.7L637.0 878.1L637.3 878.7L637.3 879.4L636.9 880.0L635.9 881.1L635.2 881.7L635.7 882.4L634.6 882.4L633.5 882.8L633.1 883.8L632.2 885.2L631.1 885.9L630.4 886.2L629.1 886.2L628.3 885.8L626.7 885.6L626.4 885.2L627.1 884.1L629.0 882.7L629.8 882.4L630.9 882.0L632.1 881.1L632.9 880.4L633.6 879.4L634.1 879.0L634.3 878.2L635.3 877.6L635.6 878.1ZM606.8 825.5L607.5 826.7L607.0 827.1L606.8 826.2L606.5 825.7L605.8 825.2L605.1 824.5L604.1 824.1L604.4 823.8L605.2 824.3L606.2 824.8L606.8 825.5ZM604.9 828.5L604.2 828.9L603.4 829.2L602.7 829.2L601.5 828.8L600.7 828.4L600.8 827.9L602.1 828.2L602.8 828.1L603.1 827.4L603.2 827.4L603.4 828.1L604.2 828.1L604.6 827.5L605.3 827.1L605.2 826.2L606.0 826.1L606.3 826.4L606.3 827.2L605.9 828.1L605.2 828.2L604.9 828.5ZM609.9 827.8L610.3 828.2L610.9 829.1L611.6 829.5L611.4 829.9L611.0 830.1L610.4 829.5L609.7 828.6L609.4 827.5L609.7 827.4L609.9 827.8ZM616.7 831.6L617.1 832.0L617.1 832.3L615.9 831.8L615.2 831.3L614.7 830.8L615.0 830.6L615.5 831.0L616.7 831.6ZM618.5 832.0L618.1 832.0L618.5 832.7L619.1 833.2L619.6 833.9L619.3 834.2L618.4 832.9L618.1 832.0ZM617.9 834.3L616.9 834.2L616.7 833.9L616.8 833.3L617.8 833.6L618.2 833.9L618.5 834.3L617.9 834.3ZM620.2 835.1L620.6 835.6L619.6 835.6L619.1 834.7L619.9 835.0L620.2 835.1ZM627.4 842.8L628.3 843.6L627.8 843.8L627.4 843.2L627.4 842.8ZM626.8 842.5L626.6 842.1L626.6 840.9L627.3 841.4L627.5 842.5L627.1 842.4L626.8 842.5ZM625.4 850.1L626.6 851.0L627.3 851.7L626.7 852.0L626.0 851.6L625.0 851.0L624.0 850.1L623.2 849.1L622.9 848.7L623.6 848.7L624.3 849.3L625.0 849.7L625.4 850.1ZM643.2 844.8L643.7 845.2L643.5 846.0L642.5 846.2L641.8 846.0L641.7 845.3L642.3 844.9L642.8 845.0L643.2 844.8ZM644.7 844.1L643.7 844.3L643.5 843.8L644.2 843.5L644.7 844.1ZM217.1 712.7L219.5 711.5L222.5 710.7L224.6 710.7L226.6 710.6L226.5 711.5L225.3 712.1L224.1 712.1L221.4 712.7L219.1 713.0L217.1 712.7ZM229.4 710.4L232.4 709.9L234.1 709.4L235.2 709.9L235.1 710.4L232.4 710.8L230.4 710.4ZM241.8 708.2L244.6 708.3L248.4 708.9L249.4 709.6L250.0 710.1L247.7 710.0L245.4 709.6L242.2 709.4L243.6 709.0L241.9 708.7L241.8 708.2ZM253.3 708.9L255.8 709.4L255.5 709.9L253.3 710.1L252.2 709.9L251.5 709.3L251.5 708.7L253.3 708.9ZM252.1 721.2L254.2 721.7L255.8 722.6L254.8 723.0L252.9 722.6L251.8 722.7L249.8 722.2L251.1 721.7L252.1 721.2ZM258.6 714.2L257.7 714.8L255.8 714.7L254.1 714.4L254.8 713.7L256.7 713.4L258.0 713.8L258.6 714.2ZM275.1 731.3L275.1 731.6L273.4 732.3L272.4 732.3L272.2 731.9L273.1 731.3L275.1 731.3ZM299.7 749.7L302.0 750.0L303.6 750.6L303.6 750.9L302.8 750.9L301.0 750.4L299.7 749.7ZM300.4 753.8L300.9 754.4L302.0 754.7L303.3 754.7L302.6 755.2L302.0 755.2L300.3 754.7L299.9 754.3L300.4 753.8ZM148.1 730.1L149.0 730.4L149.8 730.2L151.0 730.6L152.4 730.8L152.2 730.9L151.2 731.2L150.1 730.9L149.5 730.6L148.3 730.8L148.0 730.6L148.1 730.1ZM155.5 734.9L156.6 735.0L156.8 735.6L155.9 735.7L155.1 735.6L154.1 735.2L155.5 734.9ZM136.4 843.0L136.7 843.0L136.5 843.6L136.4 843.7ZM590.4 824.0L592.8 825.0L595.4 825.8L596.4 826.5L597.1 827.2L597.4 828.1L599.7 828.9L600.1 829.6L598.8 829.8L599.1 830.8L600.4 831.6L601.2 833.2L602.1 833.2L602.1 833.7L603.1 834.0L602.7 834.3L604.2 834.9L604.1 835.3L603.1 835.4L602.8 835.0L600.1 834.6L599.0 833.7L598.3 832.9L597.4 831.8L595.6 831.0L594.5 831.5L593.6 831.9L593.7 833.0L592.6 833.5L590.4 833.2Z" fill="#55aaaa" stroke="#000" stroke-width="1.1" stroke-linejoin="round"/>
<path d="M382.6 769.7L383.5 769.5L384.4 770.4L385.9 770.4L386.8 770.4L387.8 770.7L389.3 769.8L390.8 769.5L391.7 769.0L393.1 768.5L395.5 768.3L397.7 768.1L398.4 768.4L399.9 767.8L401.3 767.8L401.8 768.1L402.8 768.1L404.4 767.6L405.4 767.7L405.4 768.4L406.5 767.8L406.6 768.1L405.9 768.8L405.9 769.5L406.4 769.8L406.2 771.1L405.2 771.8L405.5 772.5L406.4 772.5L406.6 773.2L407.2 773.5L408.9 773.9L410.6 774.1L412.4 774.6L413.2 775.9L414.4 776.2L416.4 776.7L418.0 777.4L418.7 777.2L419.4 776.5L419.0 775.3L419.4 774.8L420.5 774.1L421.4 773.9L423.3 774.2L423.8 774.8L424.3 774.8L424.7 775.0L426.2 775.2L426.6 775.6L428.4 775.6L429.8 776.0L431.3 776.5L431.8 776.6L433.0 776.2L433.5 775.8L434.8 775.6L435.8 775.9L436.2 776.5L436.5 776.0L437.6 776.5L438.7 776.5L439.5 776.2L440.3 778.6L439.9 779.1L439.6 780.3L439.3 781.0L438.9 781.3L438.5 780.7L437.8 780.1L436.8 778.0L436.6 778.2L437.2 779.7L438.0 781.1L439.2 783.4L439.7 784.1L440.2 784.9L441.4 786.5L441.2 786.6L441.2 787.6L442.9 788.9L443.1 789.2L443.6 790.6L443.3 790.9L443.4 792.3L444.0 794.0L445.3 794.8L446.1 796.5L446.5 797.8L447.5 799.1L449.2 799.8L451.2 801.9L451.9 802.3L452.2 802.8L452.2 803.3L451.3 803.8L451.9 804.0L452.5 804.3L453.3 805.6L454.0 805.6L455.4 805.2L456.9 805.0L458.1 804.6L459.4 804.2L460.7 804.2L462.1 803.8L462.6 803.3L463.2 803.3L463.2 804.5L463.1 805.3L462.8 805.7L462.5 807.3L461.8 808.8L461.0 810.7L459.7 812.8L458.4 814.4L456.9 816.2L455.4 817.5L453.3 818.7L451.9 819.9L450.3 821.6L449.8 822.7L448.8 823.3L448.4 823.8L447.9 824.0L447.7 825.0L447.2 825.5L447.0 826.4L446.4 826.9L445.7 828.6L445.8 829.5L446.7 829.9L446.8 830.3L446.4 831.2L446.5 831.6L446.4 832.3L446.8 833.2L447.5 834.6L447.9 834.9L448.2 835.6L448.1 837.0L448.4 838.1L448.4 840.4L448.6 841.1L448.2 842.1L447.7 843.1L446.8 843.9L445.4 844.5L443.8 845.2L442.3 846.7L441.7 846.9L440.7 848.0L440.2 848.3L440.0 849.3L440.7 850.4L441.0 851.1L441.0 851.6L441.3 851.6L441.2 853.0L441.0 853.5L441.3 853.8L441.2 854.4L440.4 854.9L439.3 855.4L437.6 856.2L437.1 856.6L437.2 857.2L437.5 857.4L437.3 858.1L437.1 859.2L436.9 860.3L436.5 861.0L435.5 861.7L435.2 861.9L434.6 862.6L434.2 863.3L433.5 864.3L431.8 865.8L430.8 866.7L429.8 867.3L428.3 867.8L427.6 868.0L427.4 868.2L426.6 868.1L425.9 868.4L424.3 868.1L423.5 868.2L422.9 868.2L421.4 868.8L420.2 868.9L419.4 869.5L418.7 869.5L418.1 869.1L417.7 868.9L417.0 868.4L417.0 868.5L416.7 868.2L416.8 867.4L416.3 866.4L416.7 866.1L416.7 865.1L415.8 863.7L415.1 862.6L415.1 862.6L414.0 860.7L413.0 859.6L412.4 858.6L412.2 857.2L411.7 856.2L411.3 854.1L411.3 852.4L411.2 851.6L410.6 851.0L409.9 849.9L409.1 848.2L408.2 846.7L407.5 844.8L407.4 843.9L407.6 842.6L408.1 841.4L408.2 840.7L408.6 839.4L408.9 838.8L409.8 838.0L410.2 837.3L410.3 836.3L410.3 835.4L409.9 835.0L409.5 834.2L409.2 833.3L409.2 832.9L409.6 832.5L409.2 831.6L408.9 830.2L408.2 829.2L408.3 828.9L408.2 828.5L407.8 827.4L406.6 826.0L405.2 824.4L404.2 823.3L403.4 821.9L403.4 821.4L403.8 821.0L404.0 820.2L404.4 818.9L404.1 818.6L404.5 817.0L404.8 815.9L404.2 815.1L403.5 814.8L403.3 814.1L403.0 813.9L403.0 813.5L401.6 814.1L401.0 813.9L400.4 814.4L399.3 814.2L398.6 813.4L398.0 812.4L397.0 811.4L396.0 811.4L394.8 811.4L393.6 811.7L392.5 812.0L390.2 812.8L389.4 813.2L388.1 813.7L386.8 813.2L386.3 813.2L385.3 812.9L384.4 812.9L382.7 813.2L380.3 814.2L379.6 814.1L378.2 813.5L376.9 812.4L375.7 811.7L374.8 810.7L374.4 810.5L373.4 810.0L372.7 809.3L372.4 808.7L372.3 807.7L371.6 806.9L371.0 806.3L370.7 806.2L370.3 805.9L370.2 805.2L370.0 804.9L369.6 804.7L368.7 804.0L368.2 804.0L367.9 803.3L367.5 803.0L367.3 802.8L367.2 801.6L367.3 801.1L366.8 799.9L366.1 799.5L366.6 799.2L367.3 798.2L367.6 797.5L367.6 796.7L367.9 796.0L368.2 794.7L367.9 793.3L367.8 792.6L367.9 791.9L367.6 791.2L366.8 790.6L366.9 790.0L366.9 789.3L367.5 788.9L367.9 788.2L367.9 787.8L368.5 786.8L369.2 785.8L369.6 785.7L370.0 784.8L370.0 784.1L370.6 783.1L371.4 782.7L372.4 781.3L373.1 780.7L374.4 780.6L375.5 779.6L376.2 779.1L377.4 778.0L377.1 776.2L377.7 775.0L377.8 774.2L378.6 773.3L380.1 772.6L381.2 772.1L382.2 770.7ZM461.0 838.0L461.4 838.5L461.8 839.5L461.9 841.2L462.4 841.8L462.2 842.5L461.9 842.9L461.5 842.1L461.2 842.5L461.5 843.6L461.4 844.2L461.0 844.5L460.8 845.8L460.2 847.3L459.5 849.3L458.7 852.0L458.1 854.0L457.6 855.5L456.4 855.9L455.2 856.5L454.3 856.1L453.2 855.7L452.9 854.9L452.8 853.7L452.2 852.5L452.2 851.6L452.3 850.4L453.0 850.3L453.0 849.7L453.7 848.7L453.9 847.7L453.5 847.2L453.2 846.2L453.2 844.9L453.6 844.2L453.7 843.2L454.4 843.2L455.3 842.9L455.9 842.6L456.4 842.6L457.3 841.8L458.4 840.9L458.8 840.2L458.7 839.7L459.3 839.8L460.0 838.8L460.1 838.0L460.5 837.3ZM439.5 776.2L439.9 775.6L440.3 773.9L440.6 773.5L441.2 772.4L441.9 771.4L441.7 770.2L442.1 769.4L441.6 769.0L442.1 768.4L441.3 768.5L440.0 768.3L439.0 769.1L436.9 769.2L435.8 768.5L434.2 768.4L433.9 769.0L433.0 769.2L431.5 768.4L430.0 768.4L429.1 767.0L428.1 766.3L428.9 765.1L428.0 764.4L429.6 763.2L431.7 763.0L432.2 762.0L434.9 762.2L436.6 761.3L438.3 760.9L440.7 760.9L443.1 761.9L445.1 762.5L446.8 762.2L448.1 762.3L449.8 761.6L449.9 760.9L449.6 760.1L448.8 759.5L447.7 758.6L446.1 757.8L445.7 757.7L444.0 757.1L442.9 756.4L443.8 756.1L445.0 755.0L444.3 754.4L446.2 753.8L446.2 753.4L445.0 753.7L443.8 753.8L443.0 754.3L441.6 754.4L440.4 754.8L440.4 755.7L441.2 756.1L442.6 756.0L442.3 756.5L440.7 756.8L438.9 757.5L438.0 757.2L438.3 756.7L436.9 756.2L437.1 756.0L438.5 755.4L438.0 755.1L435.8 754.8L435.8 754.3L434.4 754.4L433.9 755.2L432.8 756.2L432.8 756.7L432.1 756.9L431.7 756.8L431.4 758.5L430.5 759.1L430.1 760.1L430.5 760.9L430.7 761.5L432.0 761.9L431.7 762.2L430.0 762.3L429.4 762.7L428.3 763.4L427.7 762.9L427.9 762.6L426.9 762.5L426.2 762.5L424.5 762.7L425.5 763.6L424.7 763.7L423.9 763.7L423.2 763.0L422.9 763.3L423.2 764.2L424.0 764.9L423.5 765.1L424.2 765.9L424.9 766.3L424.9 767.0L423.6 766.7L424.0 767.4L423.2 767.6L423.8 768.8L422.8 768.8L421.6 768.3L421.1 767.1L420.8 766.1L420.2 765.4L419.5 764.7L419.5 764.3L419.2 764.2L418.4 763.3L418.2 762.7L418.5 761.3L418.4 761.0L418.1 761.0L417.7 760.5L417.1 760.2L415.7 759.6L414.8 759.2L413.6 758.8L412.4 757.8L412.7 757.7L412.0 757.1L412.0 756.5L411.2 756.4L410.6 756.9L410.3 756.5L410.3 756.0L410.6 755.8L409.5 755.7L408.3 756.1L408.5 756.8L408.3 757.2L408.8 757.9L410.0 758.6L410.7 759.8L412.3 761.0L413.4 760.9L413.9 761.3L413.4 761.6L414.7 762.0L415.7 762.5L417.0 763.2L417.1 763.4L416.8 764.0L416.0 763.3L414.8 763.2L414.1 764.0L415.3 764.6L415.1 765.3L414.4 765.4L413.7 766.6L413.2 766.7L413.2 766.3L413.4 765.4L413.7 765.1L413.2 764.4L412.7 763.7L412.2 763.4L411.7 762.9L410.9 762.6L410.2 762.0L409.2 761.9L408.1 761.3L406.8 760.3L405.8 759.6L405.4 758.2L404.7 758.1L403.5 757.5L402.8 757.8L402.1 758.4L401.4 758.5L401.4 758.5L400.1 759.3L397.5 758.9L395.3 759.3L395.2 760.2L395.3 761.0L393.9 762.0L392.1 762.3L391.9 762.7L391.1 763.6L390.5 764.7L391.1 765.6L390.2 766.1L390.0 767.1L389.0 767.4L388.0 768.4L386.1 768.4L384.7 768.4L383.9 769.0L383.3 769.4L382.6 769.4L382.2 768.8L381.8 768.1L380.3 767.8L379.8 768.3L378.4 768.1L378.6 767.0L378.5 766.1L377.8 766.0L377.5 765.6L377.7 764.6L378.2 764.0L378.2 763.4L378.5 762.6L378.5 762.0L378.2 761.6L378.2 761.0L378.2 761.0L378.2 760.1L377.7 759.5L379.6 758.5L381.3 758.6L383.3 758.6L384.9 758.9L386.0 758.8L388.3 758.9L389.0 758.1L389.3 755.2L387.8 753.7L386.7 753.0L384.6 752.4L384.4 751.4L386.3 751.1L388.7 751.6L388.3 749.9L389.5 750.6L392.8 749.4L393.2 748.3L394.5 748.0L395.6 747.8L396.3 747.3L397.6 745.2L399.6 744.6L400.7 744.6L401.0 744.4L402.1 744.4L402.4 744.6L403.4 743.9L403.1 743.4L403.0 742.5L402.4 741.8L402.4 740.4L402.7 740.0L403.0 739.5L404.2 739.4L404.8 739.1L405.9 738.7L405.8 739.4L405.5 739.8L405.7 740.3L406.4 740.4L406.1 741.0L405.7 740.8L404.5 741.8L405.0 742.5L405.0 742.8L405.1 743.1L406.4 743.4L406.5 743.9L407.9 743.7L408.6 743.2L410.2 743.8L410.9 744.2L411.9 743.8L414.1 743.2L415.8 742.7L417.3 742.9L417.4 743.4L418.8 743.4L419.1 742.7L421.1 742.2L420.8 741.1L420.8 740.0L421.5 739.1L422.8 738.6L423.9 739.7L425.0 739.7L425.3 738.6L425.5 737.7L425.0 737.9L424.0 737.4L423.9 736.6L425.7 736.2L427.6 736.0L429.0 736.3L430.5 736.2L432.1 735.4L430.7 734.7L428.1 734.9L425.6 735.3L423.3 735.7L422.5 734.9L421.1 734.5L421.4 733.0L420.8 731.8L421.4 730.9L422.6 730.1L425.9 728.5L426.9 728.2L426.7 727.7L424.7 727.0L422.3 727.4L420.9 728.4L421.2 729.2L419.0 730.4L416.1 731.6L415.1 733.6L416.1 734.6L417.5 735.3L416.3 736.9L414.7 737.3L414.1 739.7L413.4 741.0L411.7 740.8L410.9 742.0L409.2 742.0L408.8 740.7L407.6 739.1L406.5 737.0L406.5 737.0L407.2 736.3L405.7 736.2L402.8 737.9L400.8 738.1L399.0 737.4L398.4 735.9L398.0 732.6L399.3 731.8L403.1 730.5L405.8 729.1L408.5 727.1L411.9 724.4L414.1 723.3L418.1 721.6L421.2 720.9L423.5 721.0L425.6 719.9L428.3 719.9L430.8 719.6L435.2 720.6L433.4 721.0L434.9 721.9L436.3 721.4L438.7 722.3L442.6 722.6L447.9 724.3L449.1 724.8L449.1 725.8L447.5 726.5L445.3 727.0L438.9 725.8L437.9 726.1L440.2 727.1L440.3 729.2L442.1 729.6L443.3 730.1L443.4 729.4L442.6 728.7L443.6 728.2L447.0 729.1L448.1 728.7L447.2 727.7L450.5 726.3L451.8 726.4L453.0 726.8L453.9 725.8L452.8 725.0L453.5 724.1L452.5 723.3L456.4 723.7L457.1 724.6L455.4 724.7L455.4 725.5L456.4 726.0L458.7 725.7L459.0 724.8L461.9 724.1L466.9 722.9L468.0 723.0L466.6 723.9L468.3 724.0L469.3 723.6L472.0 723.4L474.1 722.9L475.7 723.7L477.4 722.9L475.8 722.0L476.7 721.4L480.8 722.0L482.7 722.4L487.8 724.0L488.8 723.3L487.4 722.6L487.3 722.2L485.6 722.0L486.1 721.4L485.3 720.3L485.3 719.9L487.8 718.6L488.8 717.3L489.8 717.1L493.6 717.3L493.9 718.2L492.5 719.3L493.5 719.8L493.9 720.7L493.6 722.7L495.2 723.6L494.5 724.6L491.8 726.5L493.3 726.7L493.9 726.3L495.5 725.8L495.9 725.1L497.2 724.4L496.3 723.7L496.9 722.7L495.3 722.6L495.0 721.9L496.2 720.5L494.3 719.3L496.9 718.3L496.6 717.3L497.3 717.2L498.0 718.1L497.4 719.5L499.0 719.6L498.3 718.6L500.7 718.1L503.7 718.1L506.2 718.8L504.9 717.6L504.8 716.2L507.3 715.8L510.7 715.9L513.7 715.8L512.6 714.9L514.3 714.1L515.8 714.1L518.7 713.4L522.3 713.1L522.8 712.8L526.6 712.7L527.7 713.0L530.8 712.3L533.5 712.3L533.8 711.5L535.2 711.0L538.6 710.4L541.0 710.8L539.0 711.3L542.3 711.4L542.6 712.1L544.0 711.8L548.1 711.8L551.2 712.5L552.3 713.1L552.0 713.8L550.5 714.2L546.8 714.9L545.7 715.4L547.4 715.6L549.5 715.9L550.8 715.6L551.5 716.6L552.2 716.2L554.4 715.9L559.0 716.2L559.2 716.9L565.2 717.1L565.3 716.1L568.3 716.2L570.6 716.2L572.8 717.1L573.5 717.9L572.7 718.5L574.4 719.6L576.6 720.2L578.0 718.8L580.3 719.3L582.7 718.9L585.4 719.5L586.4 719.0L588.8 719.2L587.7 717.9L589.6 717.3L602.4 718.2L603.6 719.0L607.3 720.2L613.0 719.9L615.8 720.0L616.9 720.6L616.8 721.7L618.5 722.2L620.5 721.9L623.0 721.7L625.6 722.0L628.3 721.9L630.8 723.1L632.5 722.7L631.4 721.7L632.1 721.2L636.5 721.6L639.4 721.4L643.5 722.2L645.5 722.8L645.5 728.4L643.7 729.1L641.8 728.9L643.1 729.6L644.0 730.8L644.7 731.2L644.8 731.8L644.4 732.2L641.8 731.9L637.9 732.9L636.6 733.0L634.5 734.0L632.4 735.0L631.8 735.6L629.8 734.6L626.1 735.7L625.4 735.2L624.2 735.9L622.2 735.6L621.7 736.6L620.1 738.0L620.2 738.6L621.7 738.8L621.6 740.8L620.2 741.0L619.6 742.1L620.2 742.7L617.8 743.5L617.2 745.1L615.1 745.3L614.7 746.9L612.7 748.2L612.1 747.2L611.6 745.1L610.7 742.0L611.4 740.0L612.7 739.1L612.7 738.6L615.0 738.1L617.5 736.4L619.9 735.0L622.5 733.9L623.6 731.8L621.9 731.9L621.0 733.2L617.4 734.7L616.2 732.9L612.6 733.5L609.0 735.7L610.2 736.7L607.0 737.0L604.9 737.1L604.9 736.2L602.8 735.9L601.0 736.6L596.7 736.4L592.0 736.9L587.5 739.5L582.0 742.9L584.3 743.1L585.0 743.9L586.4 744.2L587.2 743.5L588.8 743.7L590.8 745.2L590.9 746.5L589.8 747.9L589.6 749.6L589.1 751.9L587.0 753.8L586.4 754.8L584.6 756.5L582.6 758.1L581.7 758.9L579.7 759.8L578.9 759.8L578.0 759.1L576.1 760.1L575.9 760.6L575.4 760.5L574.8 761.0L574.4 761.5L574.4 762.5L573.7 762.7L573.4 763.0L572.8 763.4L571.9 763.7L571.3 764.0L571.3 764.7L571.1 764.9L571.7 765.0L572.4 765.7L573.7 767.4L574.1 768.3L574.1 770.0L573.5 770.7L572.3 770.9L571.1 771.5L569.8 771.7L569.7 770.9L570.0 769.8L569.3 768.4L570.4 768.1L569.4 767.0L568.7 766.7L568.6 766.8L568.1 767.0L568.0 766.7L567.7 765.9L567.3 766.4L568.0 765.6L567.9 764.9L568.3 764.6L567.3 764.2L566.7 763.9L564.8 764.3L563.6 764.9L562.2 765.3L562.9 764.6L562.6 764.0L563.8 763.2L562.9 762.5L561.8 762.9L560.1 763.9L559.2 764.7L557.8 764.9L557.1 765.6L558.0 766.4L559.1 766.7L559.1 767.4L560.2 767.7L561.8 766.7L563.1 767.3L564.0 767.3L564.2 768.1L562.2 768.4L561.5 769.2L560.2 770.0L559.5 770.9L560.9 771.7L561.5 773.1L562.4 774.3L563.3 775.5L563.3 776.6L562.5 776.9L562.8 777.7L563.6 778.2L563.3 779.3L563.1 780.4L562.2 780.6L561.2 782.0L560.1 784.0L558.8 785.7L556.8 786.9L554.9 788.1L553.3 788.2L552.5 788.9L551.9 788.5L551.0 789.0L549.1 789.8L547.6 790.0L547.1 791.6L546.4 791.6L545.9 790.6L546.4 790.0L544.4 789.6L543.7 789.8L542.3 790.6L541.8 791.0L540.7 792.3L540.4 793.3L541.4 794.8L542.8 796.7L544.1 797.5L545.0 798.7L545.5 801.3L545.4 803.8L544.2 804.7L542.6 805.6L541.4 806.9L539.7 808.1L539.2 807.3L539.6 806.3L538.5 805.5L537.3 805.3L536.8 804.5L536.0 803.0L534.8 802.5L533.5 802.5L533.8 801.3L532.5 801.3L532.4 802.9L531.7 805.0L531.2 807.3L532.2 807.3L532.8 808.6L533.1 809.8L533.8 810.5L534.6 810.8L535.3 811.5L535.8 811.7L536.6 812.5L537.2 813.4L537.2 814.4L537.0 815.1L537.2 815.5L537.3 816.3L537.9 816.8L538.3 818.0L538.3 818.5L537.3 818.6L536.0 817.5L534.3 816.3L534.2 815.6L533.4 814.8L533.2 813.5L532.7 812.8L532.8 811.8L532.5 811.1L531.9 810.7L531.7 810.0L530.9 809.1L530.2 808.4L530.0 809.3L529.8 808.4L530.0 807.6L530.4 806.3L530.2 805.2L530.7 804.2L530.1 803.3L530.2 801.8L529.7 801.1L529.3 799.4L529.0 797.5L528.4 796.4L527.4 797.1L525.9 798.1L525.0 798.0L524.2 797.7L524.6 795.8L524.3 794.6L523.2 792.9L523.5 792.4L522.6 792.2L521.6 791.0L521.5 789.9L521.1 789.6L520.8 788.9L520.2 788.1L518.9 788.1L519.1 788.6L518.7 789.5L517.9 789.2L517.8 789.3L517.4 789.2L516.8 789.0L516.7 789.6L515.7 789.6L514.0 789.9L514.0 791.0L513.3 791.7L511.3 792.7L509.6 794.4L508.6 795.3L507.2 796.3L507.2 796.8L506.5 797.2L505.2 797.7L504.5 797.8L504.1 798.9L504.4 800.8L504.5 801.9L503.9 803.2L503.9 805.6L503.1 805.7L502.5 806.9L503.0 807.3L501.7 807.7L501.1 808.6L500.6 809.0L499.3 807.7L498.6 805.7L498.0 804.3L497.6 803.6L496.9 802.3L496.4 800.5L496.2 799.7L494.9 797.7L494.3 795.0L493.9 793.1L493.9 791.5L493.6 790.0L491.6 790.9L490.7 790.7L488.8 789.0L489.4 788.5L489.0 788.1L487.4 786.8L486.3 786.5L485.8 785.4L484.9 784.4L482.2 784.7L479.9 784.7L477.9 784.8L475.2 784.4L473.7 784.1L472.1 784.0L471.5 782.2L470.9 782.0L469.7 782.2L468.3 782.8L466.6 782.4L465.2 781.3L463.8 780.8L462.9 779.6L461.8 777.7L461.1 777.9L460.1 777.4L459.7 778.0L458.8 777.9L459.1 778.6L459.0 778.9L459.4 779.9L460.0 781.1L460.7 781.4L461.0 782.0L461.9 782.5L461.9 783.1L461.8 783.7L461.9 784.1L462.4 784.5L462.6 784.9L462.8 785.2L462.6 784.2L463.1 783.5L463.5 783.4L463.9 783.8L463.9 784.7L463.6 785.5L463.9 786.1L464.2 786.4L465.3 786.1L466.5 786.1L467.3 786.2L468.3 785.2L469.3 784.4L470.3 783.4L470.6 784.0L470.7 785.1L471.3 786.1L472.1 786.5L473.1 786.8L474.0 786.9L474.7 787.8L475.5 788.5L475.5 788.8L475.0 789.6L474.2 790.5L473.7 791.5L473.0 791.3L472.7 791.7L472.5 792.4L472.7 793.3L472.5 793.6L471.8 793.6L471.0 794.0L470.9 794.7L470.6 795.0L469.7 795.0L469.2 795.4L469.2 796.0L468.4 796.3L467.6 796.3L466.8 796.7L466.0 796.7L465.1 797.1L464.8 797.8L464.8 798.2L463.4 798.8L461.1 799.5L459.8 800.5L459.1 800.6L458.7 800.5L458.0 801.1L457.0 801.3L455.9 801.5L455.4 801.5L455.2 801.9L454.7 802.0L454.6 802.3L453.9 802.3L453.5 802.5L452.5 802.5L452.0 801.6L452.2 800.8L451.9 800.4L451.6 799.4L451.2 798.8L451.5 798.7L451.3 798.1L451.5 797.8L451.5 797.2L451.2 796.5L450.8 796.1L450.8 795.6L450.1 795.1L449.2 793.9L448.8 792.7L447.8 791.7L447.2 791.6L446.2 790.2L446.1 789.2L446.2 788.3L445.4 786.8L444.7 786.2L444.0 785.9L443.6 785.1L443.6 784.8L443.1 784.1L442.7 783.8L442.1 782.7L441.3 781.6L440.6 780.6L439.9 780.6L440.2 779.3L440.4 778.7L440.3 778.6ZM386.7 737.4L385.2 738.8L386.6 738.7L388.1 738.7L387.8 739.8L386.6 741.1L388.0 741.2L389.4 743.1L390.4 743.2L391.2 744.9L391.7 745.5L393.4 745.8L393.2 746.6L392.5 747.0L392.9 747.8L391.8 748.5L389.8 748.5L387.4 748.9L386.8 748.6L385.9 749.3L384.6 749.2L383.6 749.6L382.7 749.3L384.9 747.9L386.1 747.6L383.9 747.3L383.5 746.8L385.0 746.3L384.2 745.6L384.4 744.6L386.6 744.8L386.8 744.0L385.9 743.1L384.2 742.8L383.7 742.4L384.3 741.8L383.9 741.4L383.0 742.1L383.0 740.7L382.3 740.0L382.7 738.6L383.9 737.4L385.0 737.4L386.7 737.4ZM382.2 744.1L382.5 745.1L381.3 746.3L378.8 747.2L376.8 747.0L377.9 745.5L377.2 744.1L379.2 742.9L380.2 742.4L381.5 742.2L382.9 743.1L382.2 744.1ZM370.4 726.3L370.2 727.2L371.7 728.2L369.9 729.2L365.8 730.2L364.5 730.5L362.7 730.4L358.7 729.8L360.1 729.2L357.1 728.5L359.6 728.2L359.6 727.8L356.6 727.5L357.4 726.5L359.7 726.4L361.8 727.4L363.9 726.5L365.8 727.0L368.0 726.3L370.4 726.3ZM412.3 707.6L412.9 707.2L415.0 707.0L416.8 707.6L421.4 708.6L417.8 709.1L417.1 710.3L415.8 710.6L415.1 711.7L413.4 711.7L410.5 710.8L411.7 710.4L409.6 710.0L406.8 708.7L405.7 707.6L409.6 707.2L410.3 707.6L412.3 707.6ZM426.9 706.6L429.7 707.0L427.6 707.9L423.5 708.0L419.4 707.7L419.1 707.4L417.1 707.3L415.6 706.7L419.9 706.3L421.9 706.6L423.3 706.2L426.9 706.6ZM425.9 710.1L422.8 710.8L420.2 710.4L421.2 710.1L420.4 709.6L423.3 709.3L423.9 709.9L425.9 710.1ZM463.2 706.5L461.7 705.9L460.1 706.9L460.0 706.7L458.3 707.2L456.7 706.9L457.6 706.3L454.3 706.3L457.1 706.0L459.3 706.0L459.5 706.5L460.4 706.0L461.7 705.9L463.8 706.2ZM469.6 714.1L472.8 713.4L477.5 712.4L482.2 712.3L484.6 711.7L487.4 711.5L488.4 712.1L487.4 712.5L482.3 713.2L478.1 713.8L473.7 715.2L471.6 716.6L469.3 717.9L469.6 719.2L472.3 720.3L471.4 720.5L466.9 720.2L466.5 719.6L463.9 719.2L463.8 718.5L465.2 718.2L465.1 717.3L467.9 716.2L466.6 716.1L470.0 714.8L469.6 714.1ZM532.2 708.7L529.3 708.9L525.3 708.6L522.9 708.0L521.8 707.0L519.9 706.7L523.6 705.7L526.6 705.3L529.4 706.2L532.7 707.4L532.2 708.7ZM539.6 709.6L531.5 710.1L534.2 708.3L535.3 708.2L536.3 708.2L540.0 709.0L539.6 709.6ZM587.2 712.7L591.1 712.7L596.2 713.4L595.0 714.5L589.8 714.5L587.5 714.8L584.7 713.8L585.4 713.0L587.2 712.7ZM600.5 713.8L604.1 714.1L602.5 714.7L600.2 714.5L597.6 714.0L598.0 713.5L600.5 713.8ZM588.8 716.5L590.1 715.9L591.9 715.8L593.9 716.4L594.0 716.8L591.9 716.8L588.9 716.6L588.8 716.5ZM645.5 720.2L644.0 720.2L643.7 719.8L645.5 719.2L645.5 720.2ZM136.4 719.2L136.5 719.0L137.8 719.0L139.8 719.5L139.6 719.8L138.2 720.0L136.4 720.2ZM594.0 748.6L595.6 751.0L593.5 750.6L592.6 752.6L593.9 754.1L593.9 755.1L592.8 754.3L591.9 755.3L591.6 754.1L591.8 752.7L591.6 751.1L591.9 750.2L592.0 748.2L591.2 746.9L591.3 744.9L592.6 744.2L592.0 743.7L592.8 743.4L593.0 744.4L593.6 745.8L593.5 747.0L594.0 748.6ZM594.5 757.8L595.4 758.1L596.4 757.5L596.7 759.1L594.7 759.5L593.5 760.9L591.2 759.9L590.5 761.5L588.9 761.5L588.7 760.1L589.4 759.1L590.9 758.9L591.3 756.9L591.7 755.8L593.3 757.4L594.5 757.8ZM590.3 767.8L589.8 769.0L590.1 769.7L589.4 770.7L587.5 771.2L585.0 771.4L583.0 772.9L582.0 772.5L582.0 771.4L579.5 771.7L577.9 772.4L576.2 772.4L577.6 773.5L576.6 775.8L575.8 776.5L575.1 775.9L575.4 774.6L574.5 774.2L573.9 773.2L575.4 772.8L576.1 771.9L577.5 771.2L578.5 770.2L581.3 769.8L582.9 770.1L584.3 767.6L585.3 768.3L587.4 766.8L588.1 766.3L589.1 764.6L588.8 762.9L589.4 762.0L590.9 761.8L591.6 763.7L591.6 764.9L590.3 766.3L590.3 767.8ZM580.3 771.7L581.3 772.1L581.6 772.5L580.7 773.3L580.2 772.9L579.5 773.2L579.0 774.1L578.2 773.6L578.2 772.9L578.9 772.1L579.7 772.4L580.3 771.7ZM563.2 785.8L562.4 788.1L561.6 789.2L560.9 788.1L560.8 786.9L561.6 785.7L562.8 784.5L563.4 784.9L563.2 785.8ZM546.9 793.9L545.8 794.6L544.7 794.1L544.5 792.9L545.2 792.3L546.8 791.9L547.6 791.9L547.9 792.4L547.4 793.0L546.9 793.9ZM506.6 809.7L506.3 811.1L505.8 811.5L504.5 811.9L503.9 810.7L503.7 808.7L504.2 806.4L505.2 807.1L505.9 808.1L506.6 809.7ZM412.9 766.3L412.4 767.4L412.6 767.8L412.3 768.5L411.2 768.0L410.5 767.8L408.5 767.1L408.8 766.4L410.3 766.6L411.9 766.4L412.9 766.3ZM404.0 762.0L404.8 763.0L404.7 764.9L404.0 764.9L403.4 765.3L402.8 764.9L402.8 763.2L402.5 762.3L403.3 762.5L404.0 762.0ZM404.5 760.6L404.0 761.8L403.4 761.5L403.0 760.5L403.3 760.1L404.2 759.5L404.5 760.6ZM424.5 769.8L425.2 770.2L426.3 770.2L427.4 770.2L427.3 770.5L428.1 770.4L428.0 770.8L425.9 770.9L425.9 770.7L424.2 770.4L424.5 769.8ZM437.2 770.7L437.3 770.7L437.5 770.2L438.6 770.2L439.9 769.8L438.9 770.5L439.0 770.8L437.6 771.4L436.9 771.2L436.6 770.7L437.2 770.7ZM408.9 741.7L408.1 742.8L406.5 742.0L406.4 741.4L408.5 741.0L408.9 741.7ZM405.1 742.2L406.2 742.4L406.2 741.8L405.4 741.7ZM540.6 828.6L539.0 828.6L537.9 827.4L536.0 826.2L535.5 825.4L534.3 824.3L533.6 823.3L532.5 821.3L531.4 820.0L530.9 818.9L530.4 817.8L529.1 816.8L528.4 815.6L527.3 814.8L525.9 813.3L525.7 812.5L526.6 812.7L528.8 812.9L530.1 814.2L531.1 815.2L531.9 815.8L533.2 817.3L534.8 817.3L535.9 818.3L536.8 819.5L537.7 820.2L537.2 821.3L538.0 821.9L538.6 821.9L538.7 822.8L539.3 823.6L540.3 823.7L541.0 824.7L540.7 826.4L540.6 828.6ZM544.5 829.9L547.2 830.1L547.6 829.5L550.2 830.1L550.7 831.0L552.9 831.3L554.6 832.2L553.0 832.7L551.5 832.0L550.2 832.2L548.6 832.0L547.4 831.8L545.7 831.2L544.7 831.0L544.1 831.3L541.6 830.8L541.3 830.1L540.0 830.1L541.0 828.6L542.7 828.7L543.8 829.2L544.4 829.4L544.5 829.9ZM557.7 814.5L556.8 815.8L557.8 817.0L557.7 817.8L559.2 819.0L557.5 819.2L557.1 820.2L557.1 821.4L555.8 822.4L555.7 823.8L555.1 826.0L555.0 825.5L553.4 826.1L552.9 825.2L551.9 825.1L551.2 824.7L549.5 825.2L548.9 824.5L547.9 824.5L546.8 824.4L546.7 822.6L545.9 822.1L545.2 821.0L545.0 819.7L545.2 818.5L546.1 817.5L547.1 817.9L548.2 817.6L548.5 816.5L549.1 816.2L550.7 815.9L551.7 814.8L552.5 813.9L553.0 813.4L554.3 812.7L555.3 811.7L556.0 810.5L556.6 810.5L557.3 811.2L557.4 811.8L559.5 812.7L559.4 813.2L558.4 813.3L558.7 813.9L557.7 814.5ZM561.9 818.5L563.1 818.9L564.8 819.0L566.5 819.0L567.9 818.0L568.0 818.3L566.9 819.7L565.9 820.0L564.5 819.7L562.2 819.7L560.9 820.0L560.7 821.0L561.9 822.3L562.8 821.7L565.3 821.1L565.3 821.9L564.6 821.6L564.0 822.4L562.8 823.0L564.2 824.8L563.9 825.2L565.2 826.9L565.2 827.8L564.3 828.2L563.8 827.8L564.5 826.7L563.1 827.2L562.8 826.8L562.9 826.2L561.9 825.4L562.0 824.0L561.1 824.4L561.2 826.1L561.2 828.1L560.4 828.4L559.8 827.9L560.2 826.7L559.9 825.2L559.4 825.2L559.0 824.3L559.5 823.3L559.7 822.3L560.4 820.0L560.7 819.5L561.9 818.5ZM562.5 794.1L563.3 794.6L563.8 794.1L563.9 794.6L563.8 795.1L564.2 796.1L563.9 797.2L563.1 797.8L562.8 798.9L563.1 800.1L563.9 800.2L564.5 800.1L566.3 800.8L566.2 801.6L566.6 801.9L566.5 802.6L565.3 801.9L564.8 801.1L564.5 801.6L563.5 800.8L562.2 801.1L561.5 800.6L561.6 800.1L562.1 799.8L561.6 799.4L561.5 799.9L560.8 799.1L560.5 798.5L560.5 797.1L561.1 797.7L561.2 795.4L561.6 794.1L562.5 794.1ZM569.7 808.4L569.8 809.3L569.8 810.1L569.4 811.4L568.9 810.0L568.3 810.7L568.7 811.8L568.3 812.4L566.6 811.5L566.2 810.5L566.6 809.8L565.7 809.3L565.3 809.8L564.6 809.7L563.6 810.5L563.3 810.1L563.9 809.0L564.8 808.6L565.6 808.0L566.0 808.7L567.2 808.3L567.4 807.6L568.4 807.6L568.3 806.4L569.4 807.1L569.6 807.9L569.7 808.4ZM559.9 804.2L560.2 805.3L559.2 806.2L558.5 807.1L556.7 808.4L557.4 807.4L558.4 806.6L559.2 805.6L559.9 804.2ZM562.8 801.8L562.5 803.0L561.8 802.3L561.1 801.2L562.4 801.3L562.8 801.8ZM563.3 803.5L564.2 803.9L565.0 803.9L565.0 804.5L564.3 805.2L563.5 805.6L563.4 804.9L563.5 804.2L563.3 803.5ZM566.3 805.7L565.7 806.2L565.3 807.1L564.9 807.6L564.0 806.6L564.3 806.2L564.6 805.7L564.8 804.9L565.6 804.9L565.3 805.7L566.5 804.5L566.3 805.7ZM568.0 802.6L568.4 803.0L568.9 804.7L567.7 804.3L567.7 804.7L568.1 805.6L567.7 806.2L567.4 806.0L567.4 805.0L567.0 804.9L566.7 804.0L567.6 804.2L567.6 803.6L566.7 802.5L568.0 802.6ZM567.7 832.9L567.9 833.6L566.9 834.6L565.7 835.0L565.6 834.7L565.7 834.3L566.3 833.5L567.7 832.9L569.0 832.2L570.0 832.2L570.5 832.0L571.0 832.2L570.5 832.6L569.0 833.2L567.9 833.6ZM561.6 831.9L562.5 832.3L563.5 832.3L564.8 831.8L564.6 832.5L562.5 832.9L560.5 832.7L560.5 832.2L561.6 831.9ZM557.7 831.8L558.2 832.2L559.1 832.0L559.4 832.6L557.8 832.9L556.8 833.0L556.0 833.0L556.6 832.3L557.3 832.2L557.7 831.8ZM561.2 834.0L561.8 834.4L560.5 833.6L559.2 833.9L560.5 833.6ZM573.0 818.7L572.8 819.9L572.1 819.7L571.9 820.7L572.5 821.4L572.1 821.6L571.5 820.7L572.0 818.0L572.8 818.2L573.0 818.7ZM575.5 824.7L575.9 825.8L574.8 825.1L573.7 825.1L572.8 825.1L571.8 825.1L572.1 824.3L573.9 824.3L575.5 824.7ZM570.8 825.2L570.4 825.7L569.4 825.4L569.1 824.8L570.6 824.7L570.8 825.2ZM488.4 889.0L489.4 889.5L490.7 889.7L490.8 890.0L490.4 890.6L488.1 890.7L488.1 889.9L488.4 889.3ZM136.4 722.8L139.8 723.9L143.6 725.3L143.5 726.1L144.5 726.5L144.0 725.4L147.8 725.7L150.7 727.0L149.3 727.7L147.0 727.8L146.9 729.1L146.3 729.4L145.0 729.4L143.9 728.9L142.1 728.5L141.8 727.8L140.4 727.7L138.7 727.8L137.9 727.4L136.5 727.1L137.2 727.8L136.4 728.4ZM580.6 822.0L581.0 824.3L582.6 825.1L583.7 823.6L585.3 822.7L586.5 822.7L587.8 823.3L588.8 823.7L590.4 824.0L590.4 833.2L589.1 832.0L587.7 831.8L587.4 832.2L585.5 832.2L586.1 831.0L587.1 830.6L586.7 829.1L586.0 827.9L583.3 826.7L582.1 826.7L580.0 825.2L579.6 826.0L579.0 826.1L578.8 825.5L578.8 825.0L577.6 824.3L579.2 823.8L580.2 823.8L580.0 823.4L577.9 823.4L577.3 822.6L576.1 822.3L575.5 821.6L577.5 821.3L578.2 820.9L580.4 821.4L580.6 822.0ZM314.6 812.1L315.1 812.4L316.1 812.7L317.7 813.8L317.8 814.4L316.6 816.8L316.1 817.3L313.9 817.0L314.2 816.4L314.3 815.8L314.6 815.2L314.0 814.3L313.9 813.4L314.6 812.2Z" fill="#f08080" stroke="#000" stroke-width="1.1" stroke-linejoin="round"/>
<path d="M460.4 754.7L459.7 755.5L458.4 755.8L457.0 757.2L458.3 758.5L458.1 759.5L459.7 761.2L461.1 762.9L462.2 763.3L461.1 763.4L460.8 764.6L460.5 765.1L460.1 766.1L460.5 767.1L461.8 767.4L462.8 768.1L464.9 768.4L467.0 768.0L467.2 767.7L466.9 766.6L466.5 765.1L466.0 764.7L466.5 763.7L465.5 763.7L465.8 762.5L467.2 762.9L468.3 762.3L467.3 761.5L466.9 760.8L465.8 761.0L465.6 762.2L465.2 761.2L465.1 760.9L465.5 760.3L465.2 759.8L463.5 759.3L462.9 758.1L462.1 757.7L462.1 757.2L463.5 757.4L463.5 756.4L464.8 756.1L465.9 756.2L466.2 755.0L465.9 754.0L464.5 754.1L463.4 753.8L461.7 754.4Z" fill="#ffffff" stroke="#000" stroke-width="1.1" stroke-linejoin="round"/>
<path d="M253.5 783.7L252.8 785.9L252.6 788.5L253.3 790.9L254.8 793.0L255.9 793.9L257.3 794.6L259.7 794.1L261.7 793.7L262.7 792.7L263.1 790.6L265.8 789.9L267.9 789.9L268.2 790.9L267.2 792.4L266.8 794.3L266.1 794.3L265.8 794.1L264.8 794.8L264.9 795.1L263.5 795.1L262.3 795.1L262.3 795.8L261.7 796.0L263.1 797.1L263.0 797.5L261.3 797.5L260.7 798.9L260.6 799.8L258.2 797.7L257.0 797.4L254.5 798.1L252.4 797.5L250.0 796.7L247.1 795.4L244.6 794.4L242.5 793.0L241.5 791.5L242.0 790.0L241.5 788.5L239.8 786.6L237.7 784.7L236.2 783.8L236.2 782.5L234.7 781.4L233.7 780.8L232.3 779.3L231.0 776.7L231.0 776.2L228.6 775.3L228.7 777.6L230.7 779.6L231.4 781.0L233.1 782.5L233.5 784.0L234.4 785.9L236.2 787.5L235.4 787.9L234.1 786.4L232.3 785.4L232.3 783.5L230.4 782.4L229.0 782.0L229.4 780.6L229.4 779.9L227.6 778.4L225.9 775.6L225.3 774.3L228.3 774.1L228.6 774.3L234.0 776.0L237.9 776.0L237.9 775.3L240.3 775.3L242.5 776.9L243.2 778.4L245.1 779.3L246.0 778.2L247.6 778.2L248.5 779.1L249.4 780.6L250.2 781.4L250.7 782.8L253.1 783.8L253.5 783.7ZM317.8 814.4L316.6 816.8L316.1 817.3L313.9 817.0L314.4 817.3L313.0 816.8L311.9 816.8L311.6 817.6L311.0 817.6L309.9 817.6L308.4 818.2L308.2 818.5L307.5 818.5L306.7 817.8L306.1 816.3L306.8 814.6L306.4 814.1L306.0 813.2L305.1 812.9L305.8 812.9L304.1 813.9L303.1 814.4L302.1 814.6L301.7 814.9L299.9 814.5L299.3 814.5L300.2 816.8L301.3 816.9L301.3 817.2L300.3 817.6L299.6 818.5L298.5 818.7L298.3 819.2L297.2 819.3L296.3 818.5L295.9 817.0L294.9 817.9L292.2 817.9L292.2 818.7L293.1 818.9L292.7 819.3L292.0 819.6L292.0 820.6L292.5 821.0L292.8 821.9L292.1 826.4L290.8 826.4L287.9 827.8L287.7 828.4L287.4 828.9L287.6 829.6L286.7 830.1L286.3 830.9L286.9 832.2L287.7 833.0L287.4 833.7L288.3 833.7L288.8 834.6L290.5 834.6L291.2 833.7L291.2 835.9L291.8 836.0L292.7 835.7L293.8 835.9L294.4 835.9L294.8 835.4L295.9 834.9L296.8 834.3L298.6 834.2L298.5 835.1L298.6 835.7L298.5 836.7L300.0 838.0L301.6 838.1L302.1 838.7L303.1 839.0L303.7 839.4L304.5 839.4L305.4 840.1L305.7 840.9L305.7 841.7L305.4 841.7L305.8 843.4L308.6 843.4L308.4 844.2L308.5 844.8L309.4 845.2L309.6 846.0L309.4 847.2L309.1 847.7L309.1 848.6L308.6 848.9L309.1 849.6L309.1 851.6L311.0 851.6L312.0 852.0L312.3 852.4L312.5 853.7L312.6 854.2L313.2 854.2L313.6 854.0L314.2 854.2L314.2 855.1L314.0 855.9L313.7 856.6L314.4 856.4L315.1 857.2L315.1 858.3L313.9 859.2L312.9 859.8L311.3 861.2L309.5 863.0L310.3 862.9L311.9 864.0L312.3 864.0L313.7 864.8L314.9 865.6L315.7 866.5L315.0 867.3L315.4 868.1L316.4 867.3L317.0 865.8L318.0 865.3L319.3 864.1L320.8 861.6L321.8 860.9L322.1 860.2L322.4 858.8L322.2 857.9L322.4 856.9L323.6 855.5L325.2 854.4L326.7 854.0L327.9 853.4L330.0 852.8L331.6 852.8L331.8 852.0L333.1 851.3L333.3 849.9L334.7 848.0L334.9 846.2L335.5 844.6L335.9 842.5L335.8 839.8L336.2 838.8L336.6 838.7L337.6 837.6L338.6 835.9L340.6 833.9L341.3 833.0L341.9 830.6L341.6 829.8L341.2 828.1L340.6 827.5L339.3 827.5L338.3 827.1L336.5 825.5L334.4 824.4L332.3 824.4L329.6 823.7L327.9 824.1L328.2 823.3L327.5 822.6L325.0 821.6L323.4 821.1L322.2 822.0L322.2 820.6L319.7 820.4L319.3 820.0L320.4 818.9L320.2 817.9L319.5 817.6L318.7 815.1L318.4 814.4L317.8 814.4Z" fill="#00ffff" stroke="#000" stroke-width="1.1" stroke-linejoin="round"/>
<path d="M394.0 803.4L394.0 802.4L392.4 802.1L392.4 801.4L391.6 800.5L391.4 799.9L391.5 799.2L392.4 799.1L392.9 798.6L394.8 798.5L396.1 798.3L396.2 797.4L397.0 796.5L397.0 793.2L399.0 792.6L403.1 789.8L407.9 787.1L410.2 787.7L410.9 788.5L412.0 788.0L412.3 790.2L412.8 790.5L412.9 791.0L413.4 791.5L413.1 792.1L412.6 794.9L412.5 796.8L410.7 798.1L410.1 800.0L410.7 800.5L410.7 801.4L411.6 801.4L411.5 802.1L411.0 802.2L411.0 802.7L410.7 802.7L409.8 801.1L409.4 801.1L408.3 801.9L407.3 801.4L406.5 801.4L406.1 801.6L405.2 801.5L404.4 802.1L403.7 802.2L402.0 801.4L401.3 801.8L400.6 801.7L400.1 801.2L398.6 800.7L397.1 800.9L396.8 801.2L396.6 802.0L396.2 802.6L396.1 803.8L395.0 803.0L394.5 803.0L394.0 803.4ZM505.7 777.6L506.2 777.3L507.4 777.7L508.8 778.6L509.6 778.8L510.1 779.5L511.2 779.8L512.3 780.4L513.9 780.7L515.6 780.9L515.5 781.5L515.6 782.4L515.5 783.0L514.3 783.0L512.6 782.6L511.5 782.5L510.7 781.8L508.8 781.6L506.9 780.8L505.6 780.1L504.2 779.6L504.8 778.3L505.7 777.6ZM531.7 791.7L530.9 792.4L529.9 792.4L529.3 794.0L528.7 794.2L529.3 795.5L530.2 796.5L530.8 797.4L530.3 798.6L529.8 798.9L530.1 799.6L531.1 800.7L531.3 801.5L531.2 802.2L531.8 803.5L531.0 804.8L530.3 806.3L530.2 805.2L530.6 804.1L530.1 803.3L530.3 801.7L529.7 801.0L529.2 799.3L529.0 797.5L528.4 796.4L527.4 797.1L525.8 798.1L525.0 798.0L524.2 797.6L524.6 795.9L524.3 794.5L523.2 792.9L523.4 792.4L522.6 792.2L521.6 791.1L521.5 789.9L522.0 790.1L522.0 789.1L522.7 788.8L522.6 788.2L522.9 787.7L522.9 786.2L524.0 786.6L524.7 785.4L524.7 784.7L525.5 783.5L525.5 782.7L527.3 781.7L528.3 782.0L528.2 781.1L528.7 780.9L528.6 780.3L529.4 780.2L529.9 781.1L530.5 781.4L530.5 782.5L530.5 783.6L529.1 784.8L529.0 786.5L530.5 786.3L530.8 787.6L531.7 787.8L531.3 789.0L532.3 789.6L533.0 789.8L534.0 789.4L534.0 790.0L532.8 790.9L532.5 791.4L531.7 791.7ZM399.5 744.6L400.7 744.7L401.0 745.1L400.6 746.4L400.3 747.0L399.4 747.0L399.7 748.5L398.9 748.1L398.0 747.5L396.7 747.8L395.6 747.7L396.4 747.3L397.6 745.2L399.5 744.6ZM427.8 762.6L426.9 762.5L426.2 762.5L424.5 762.7L425.5 763.6L424.7 763.7L423.9 763.7L423.2 763.0L422.9 763.3L423.2 764.2L424.0 764.9L423.5 765.1L424.2 765.9L424.9 766.3L424.9 767.0L423.6 766.7L424.0 767.4L423.2 767.6L423.8 768.8L422.8 768.8L421.6 768.3L421.1 767.1L420.8 766.1L420.2 765.4L419.5 764.7L419.4 764.3L420.1 763.6L420.2 763.1L420.6 762.9L420.7 762.5L421.6 762.4L422.1 762.1L422.9 762.1L423.1 761.9L423.4 761.8L424.5 761.9L425.6 761.5L426.6 762.0L427.9 761.9L428.6 761.5L428.1 762.4L427.8 762.6Z" fill="#ff0000" stroke="#000" stroke-width="1.1" stroke-linejoin="round"/>
<path d="M217.3 751.0L256.3 751.0L257.2 751.3L258.6 751.6L260.0 751.8L261.4 752.3L262.5 752.0L264.2 752.4L264.7 752.5L265.9 752.0L270.9 754.0L271.0 754.4L271.5 754.5L272.0 754.8L272.7 755.1L272.9 755.3L272.7 755.5L274.1 756.2L274.6 757.5L274.8 758.6L274.4 759.5L273.7 760.3L273.4 760.8L273.6 761.2L274.4 761.3L276.0 760.6L277.5 760.3L279.4 759.6L279.2 759.1L278.9 758.8L279.7 758.6L282.3 758.6L282.8 758.1L284.5 756.9L285.0 756.7L289.8 756.7L290.0 756.2L291.0 756.0L291.5 755.4L292.0 754.3L293.1 753.3L293.5 753.5L294.5 753.3L295.1 753.7L295.1 755.7L296.1 756.5M191.5 721.9L191.5 735.0L193.0 735.0L194.4 735.4L196.5 737.0L197.9 736.2L199.3 735.7L200.2 736.4L201.4 737.1L202.3 737.7L204.7 740.3L207.1 741.2L207.1 742.1L206.4 742.8M225.3 774.3L228.3 774.1L228.6 774.3L234.0 776.0L237.9 776.0L237.9 775.3L240.3 775.3L242.5 776.9L243.2 778.4L245.1 779.3L246.0 778.2L247.6 778.2L248.5 779.1L249.4 780.6L250.2 781.4L250.7 782.8L253.1 783.8L253.5 783.7M260.6 799.8L260.7 798.9L261.3 797.5L263.0 797.5L263.1 797.1L261.7 796.0L262.3 795.8L262.3 795.1L263.5 795.1L264.9 795.1L264.8 794.8L265.8 794.1L266.1 794.3M264.9 795.1L264.9 796.2L264.8 797.8L265.2 797.8M266.2 798.1L265.5 798.6L264.9 799.0L264.8 799.3L264.9 799.5L264.6 799.9L264.3 800.0L264.3 800.2L264.1 800.3L263.6 800.7L263.5 800.9M264.6 799.9L265.0 800.0L265.3 800.3L265.7 800.5L265.8 800.7L266.4 800.6L266.7 800.7L266.9 800.8L266.8 801.4M267.5 801.9L268.1 801.6L268.3 801.5L268.3 800.9L268.6 800.8L268.9 800.8L269.2 800.4L269.6 800.7L269.8 800.6L270.0 800.4L270.5 800.0L270.5 799.7L270.9 799.4L271.0 799.3L271.2 799.6L271.5 799.6L271.8 799.4L272.2 799.4L272.7 799.3L272.9 799.1L273.4 799.1M269.7 804.6L270.0 804.4L270.9 804.8L271.2 804.6L271.6 804.7L271.9 805.0L272.3 805.1L272.6 804.8M273.6 808.7L273.7 808.4L273.8 808.1L273.8 807.8L274.0 807.7L273.7 807.5L273.7 806.9L274.2 806.8M281.6 808.0L281.4 808.3L281.7 809.1L281.4 809.5L281.0 809.4L280.8 810.1M289.5 792.4L289.7 793.2L289.6 793.7L289.2 794.0L289.6 794.4L289.5 794.8M290.1 803.6L289.2 803.9L288.8 804.6L288.3 805.0L287.8 805.5L287.7 806.5L287.3 807.4L288.0 807.4L288.2 808.1L288.5 808.4L288.6 809.0L288.4 809.5L288.5 809.8L288.8 809.9L289.2 810.4L291.0 810.3L291.8 810.5L292.8 811.7L293.4 811.5L294.4 811.6L295.2 811.4L295.7 811.7L295.5 812.4L295.2 812.9L295.0 813.9L295.3 814.9L295.7 815.3L295.8 815.6L295.1 816.3L295.6 816.6L295.9 817.1L296.4 818.5M306.4 808.5L305.3 809.3L305.2 809.8L305.7 810.3L305.3 810.6L304.5 810.8L304.5 811.5L304.1 811.9L305.1 812.9M310.1 811.9L309.9 813.1L309.1 813.5L309.1 813.8L308.9 814.6L309.5 815.6L309.9 815.6L310.1 816.4L311.0 817.6M314.6 812.2L313.9 813.4L314.0 814.3L314.6 815.2L314.3 815.8L314.2 816.4L313.8 817.0M279.4 818.3L280.8 819.2L281.1 819.1L281.5 819.7L282.7 819.9L283.1 819.7L283.8 820.2L284.4 820.5L284.6 821.6L284.1 822.5L282.6 824.0L280.9 824.5L280.0 825.8L279.7 826.7L278.9 827.3L278.4 826.6L277.8 826.5L277.2 826.6L277.1 826.0L277.6 825.7L277.4 825.1M284.4 820.5L284.7 820.4L285.7 821.0L286.1 821.7L286.8 822.1L287.6 823.6L288.7 823.7L289.5 823.4L290.0 823.6L290.8 823.5L291.9 824.2L291.0 825.6L291.4 825.6L292.1 826.4M292.6 835.8L293.8 838.1L293.5 838.5L293.5 839.5L293.4 840.7L292.9 841.4L293.1 842.0L292.8 842.4L293.4 843.6L292.5 845.2L293.2 846.1L293.4 847.1L294.2 847.7L293.7 849.1L294.5 850.7L295.0 852.6L296.0 852.5L296.2 852.8L297.2 851.2L299.1 851.5L299.9 852.5L300.5 851.4L302.1 851.5L302.3 851.8L304.9 854.1L306.1 854.3L307.8 855.3L309.2 855.9L309.4 856.5L308.0 858.7L309.5 859.0L311.1 859.3L312.2 859.0L313.5 857.9L313.7 856.7M302.1 851.5L302.9 850.1L302.9 849.3L303.6 848.1L306.0 847.7L307.3 847.7L308.7 848.4L308.7 848.8M309.4 863.0L309.1 864.2L308.7 865.6L308.7 867.0L308.4 867.3L308.3 868.3M293.9 894.7L293.9 897.9M372.3 781.2L378.7 781.2L378.7 779.5L381.0 778.5L382.4 778.3L383.5 777.9L384.1 777.2L385.7 776.6L385.8 775.6L386.6 775.4L387.2 774.9L389.1 774.7L389.4 774.1L389.0 773.8L388.5 772.3L388.4 771.5L387.9 770.6M366.8 790.6L372.7 790.1L372.4 788.1L372.7 787.4L374.1 787.3L374.0 783.6L378.7 783.7L378.7 781.6L384.0 785.0L393.5 791.2L393.9 791.8L394.7 792.2L395.4 792.5L395.4 793.3L397.0 793.2M407.9 787.1L407.3 786.2L406.2 785.6L405.5 785.8L405.0 785.0L405.0 784.4L404.1 783.4L404.7 782.8L404.6 781.9L404.8 781.1L404.6 780.5L404.9 779.3L404.8 778.7L404.4 777.4L403.8 774.9L402.9 774.3L402.9 774.0L401.7 773.2L401.6 772.1L402.5 771.3L402.8 770.1L402.6 768.8L402.9 768.0M404.4 777.4L405.0 777.1L405.2 776.5L405.0 775.9L406.0 775.4L406.4 774.9L407.1 774.5L407.2 773.4M426.5 775.7L426.0 776.3L426.2 776.9L425.9 777.8L426.3 778.9L426.3 789.2L443.1 789.2M426.3 789.2L426.3 792.0L424.7 792.0L424.7 792.6L419.0 789.9L413.4 787.2L412.0 788.0M384.0 785.0L381.8 785.0L382.5 791.1L383.2 797.2L383.4 797.4L383.1 798.4L377.4 798.4L377.2 798.7L376.7 798.6L375.9 798.9L374.9 798.5L374.4 798.5L374.2 799.4L373.7 799.6L372.8 798.7L371.9 797.6L371.0 797.2L370.3 796.8L369.5 796.8L368.9 797.1L368.2 797.0L367.7 797.5M373.7 799.6L373.8 800.5L374.1 801.3L374.6 801.7L374.7 802.3L374.7 802.7L374.5 802.8L373.7 802.7L373.3 802.9L372.3 802.5L371.6 802.5L369.0 802.4L368.6 802.6L368.1 802.6L367.4 802.8M367.1 801.7L368.4 801.7L368.8 801.5L369.0 801.5L369.5 801.2L370.1 801.5L370.8 801.5L371.4 801.2L371.1 800.8L370.6 801.0L370.2 801.0L369.6 800.7L369.2 800.7L368.9 801.0L367.3 801.1M371.6 802.5L371.5 803.0L371.4 803.1L371.5 803.6L371.3 803.8L371.0 803.8L370.6 804.0L370.2 804.0L369.6 804.7M374.7 802.7L374.7 803.2L375.0 803.2L375.3 803.0L375.6 803.1L376.0 803.4L376.6 803.6L377.0 803.2L377.4 803.1L377.8 802.9L378.0 802.9L378.3 803.2L378.5 803.6L379.1 804.2L378.8 804.5L378.8 805.0L379.1 804.9L379.2 805.0L379.2 805.5L379.6 805.9L379.3 806.0L379.2 806.5L379.5 807.0L379.9 808.2L379.4 808.3L379.2 808.5L379.3 808.8L379.2 809.4L379.0 809.4L378.6 809.4L378.3 810.0L377.9 810.0L377.7 809.7L377.7 809.1L377.1 808.2L376.8 808.4L376.5 808.4L376.1 808.5L376.1 808.0L375.9 807.6L375.9 807.2L375.6 806.6L375.2 806.1L374.1 806.1L373.8 806.4L373.4 806.4L373.1 806.7L373.0 807.1L372.2 807.7M376.5 808.4L375.8 809.1L375.2 809.8L375.1 810.2L374.8 810.7M379.0 809.4L378.9 809.8L379.1 810.5L378.8 811.2L379.2 811.5L379.7 811.6L380.2 812.2L380.3 812.8L380.1 813.0L380.0 814.1M379.6 805.9L379.8 805.7L380.2 805.9L381.3 806.0L381.5 805.5L381.8 805.6L382.2 805.4L382.4 806.0L382.7 805.8L383.3 805.6L383.9 805.9L384.2 806.4L384.8 806.7L385.3 806.4L386.0 806.3L386.9 806.7L387.3 808.7L386.7 809.9L386.4 811.5L387.0 812.7L386.9 813.2M383.3 805.6L383.2 804.8L383.6 804.2L383.6 803.7L384.7 802.6L384.9 801.6L385.3 801.3L386.0 801.4L386.6 801.2L386.7 800.8L387.9 800.1L388.1 799.7L389.4 799.1L390.2 798.9L390.6 799.2L391.5 799.2M394.0 803.4L393.7 803.8L393.0 804.0L392.7 804.6L392.2 804.7L391.0 804.7L390.3 804.6L389.9 804.8L389.3 804.7L386.8 804.8L386.8 805.6L386.9 806.7M391.0 804.7L390.9 805.2L391.5 805.9L391.5 806.9L391.6 808.0L392.0 808.5L391.6 809.8L391.8 810.5L392.1 811.4L392.4 811.9M392.2 804.7L392.0 805.5L392.5 805.9L393.0 806.4L393.0 807.1L393.3 807.4L393.2 810.6L393.6 811.6M394.8 811.4L394.8 809.2L394.8 808.3L395.1 807.4L395.5 806.9L396.2 806.1L396.0 805.7L396.3 805.1L396.0 804.3L396.1 803.8M411.0 802.7L411.6 803.2L411.4 803.5L411.3 803.9L410.1 805.0L409.8 805.9L409.6 806.7L409.3 807.0L409.0 808.0L408.2 808.5L408.0 809.3L407.7 809.8L407.6 810.4L406.6 810.9L405.8 810.3L405.3 810.3L404.4 811.2L404.0 811.2L403.3 812.6L403.0 813.6M411.5 802.1L412.0 803.0L412.1 804.0L412.0 804.9L412.8 806.2L412.0 806.2L411.6 806.3L411.0 806.1L410.7 806.8L411.5 807.6L412.1 807.9L412.3 808.4L412.8 809.4L412.6 809.8L411.9 811.2L411.5 811.5L411.4 812.6L411.5 813.2L411.4 813.6L412.1 814.3L412.2 814.9L412.7 815.6L413.4 816.0L413.4 816.7L413.6 817.1L413.5 817.9L412.4 817.5L411.2 817.1L409.4 817.1L409.3 817.0L408.4 817.2L407.6 817.0L406.9 817.1L404.6 817.1M406.9 817.1L406.9 818.8L404.9 818.8L404.4 818.9M409.4 817.1L409.7 818.4L410.8 818.3L411.1 818.6L410.5 820.2L411.2 821.1L411.4 822.2L411.2 823.1L410.7 823.8L409.5 823.7L408.7 823.1L408.6 823.7L407.7 823.8L407.2 824.2L407.7 825.2L406.6 825.9M417.0 815.4L417.0 816.2L416.5 816.9L416.3 817.8L416.1 819.1L416.2 819.9L415.9 820.4L415.9 820.9L415.7 821.3L414.8 822.0L414.2 822.8L413.5 824.1L413.6 825.3L413.2 825.8L412.4 826.4L411.6 827.3L411.0 827.1L410.9 826.7L410.2 826.7L409.7 827.2L409.3 827.1L408.8 826.6L408.4 826.8L407.8 827.4M413.6 817.1L414.3 815.8L415.2 815.0L416.1 815.3L417.0 815.4M408.2 828.5L408.5 828.3L408.6 827.7L408.8 827.4L409.3 827.1M408.4 828.9L409.0 828.7L409.4 828.8L409.9 828.6L414.0 828.6L414.4 829.7L414.8 830.5L415.1 831.0L415.7 831.7L416.6 831.6L417.1 831.4L417.8 831.6L418.1 831.2L418.4 830.4L419.3 830.4L419.4 830.1L420.1 830.1L420.0 830.6L421.7 830.6L421.7 831.5L422.0 832.1L421.8 832.9L421.9 833.8L422.4 834.3L422.3 836.0L422.6 835.8L423.3 835.9L424.1 835.7L424.8 835.8L424.9 836.2L424.7 836.9L425.0 837.5L424.8 838.1L424.9 838.6L422.0 838.5L421.9 843.0L422.9 844.2L423.8 845.1L421.2 845.7L417.8 845.5L416.8 844.8L411.0 844.8L410.8 844.9L410.0 844.3L409.1 844.3L408.2 844.5L407.5 844.8M423.8 845.1L424.9 844.8L425.9 844.8L426.4 845.2L426.4 845.3L425.6 845.6L425.2 845.6L424.3 846.2L423.8 845.6L421.6 846.1L420.5 846.1L420.5 851.1L419.1 851.2L419.1 855.3L419.1 860.5L417.8 861.3L417.1 861.4L416.2 861.1L415.5 861.0L415.3 860.4L414.7 860.0L414.1 860.7M419.1 855.3L419.5 855.5L420.3 856.9L420.2 857.7L420.5 858.2L421.5 858.1L422.2 857.5L422.9 857.0L423.2 856.4L423.9 856.0L424.5 856.2L425.2 856.6L426.3 856.7L427.2 856.3L427.4 855.9L427.6 855.2L428.4 855.1L428.8 854.6L429.3 853.6L430.6 852.6L432.6 851.5L431.7 850.9L430.6 850.7L430.2 849.8L430.2 849.3L429.6 849.1L427.9 847.6L427.5 846.8L427.2 846.5L426.7 845.4L426.4 845.3M426.7 845.4L428.3 845.5L428.7 845.7L429.2 845.7L430.0 844.8L431.2 843.6L431.7 843.5L431.9 843.0L432.7 842.4L433.8 842.2L433.9 842.8L435.0 842.7L435.7 843.0L436.0 843.4L436.7 843.5L437.4 843.9L437.4 845.7L437.1 846.7L437.1 847.8L437.3 848.2L437.1 849.0L436.9 849.1L436.5 850.2L435.1 851.8L434.3 851.6L433.8 851.8L433.1 851.6L432.6 851.5M435.1 851.8L435.7 853.8L436.1 854.8L435.9 856.3L436.0 856.8L436.2 857.5L436.3 858.1L437.4 858.1M436.0 856.8L435.3 856.6L434.8 856.7L434.7 857.1L434.3 857.6L434.4 858.1L435.2 858.9L436.0 858.7L436.3 858.1M431.9 861.3L432.4 861.7L432.0 862.4L431.7 862.8L431.0 863.1L430.7 863.5L430.2 863.6L429.1 862.6L429.9 861.7L430.6 861.1L431.3 860.8L431.9 861.3M424.9 836.2L425.3 836.2L426.0 836.2L426.9 836.3L427.4 837.0L428.5 837.2L429.4 836.7L429.7 837.5L430.8 837.7L431.3 838.3L431.9 839.0L433.0 839.1L432.8 837.5L432.4 837.8L431.5 837.2L431.1 837.0L431.3 835.6L431.5 833.9L431.2 833.3L431.6 832.4L432.0 832.2L433.9 832.0L434.4 832.1L435.0 832.4L435.6 832.7L436.5 832.9L437.3 833.4L437.9 834.0L438.3 835.2L438.1 835.6L437.8 836.7L438.1 837.9L437.6 838.4L437.2 839.7L437.9 840.1L433.6 841.2L433.8 842.2M437.9 840.1L438.7 840.7L439.1 840.6L439.7 841.0L439.8 841.5L439.5 842.2L439.6 843.2L440.5 844.1L440.9 843.1L441.5 842.8L441.4 841.0L440.8 839.9L440.3 839.5L439.8 839.5L439.4 837.7L439.8 836.6L440.9 836.5L442.6 836.9L443.0 836.7L443.9 836.7L444.4 836.2L445.3 836.3L446.8 835.7L448.0 834.9M439.8 836.6L439.4 834.7L438.9 834.0L438.7 833.6L437.3 833.4M446.4 826.9L444.4 825.5L444.3 824.7L438.9 821.6L434.5 821.7L434.0 821.9L434.5 822.7L434.5 823.5L434.0 823.7L434.1 824.3L434.4 824.6L434.4 825.1L434.1 825.3L433.5 826.1L433.0 826.6L432.4 826.7L432.7 828.0L432.6 828.7L432.8 829.5L433.7 830.3L434.4 832.1M434.0 821.9L433.1 822.3L432.8 822.2L432.8 821.1L433.1 820.6L433.2 819.5L433.5 818.8L434.0 818.1L434.6 817.7L435.0 817.2L434.5 817.0L434.5 815.3L433.3 814.4L433.0 813.8L432.2 814.1L431.5 814.0L431.2 814.2L430.5 814.1L429.7 812.9L429.2 813.0L428.3 813.0L427.2 812.9L426.7 813.0L426.5 813.3L426.0 813.4L425.5 813.1L423.9 813.8L423.3 813.6L423.1 813.8L422.6 814.6L421.6 814.3L420.5 814.2L419.6 813.7L418.5 813.2L417.7 813.6L417.2 814.4L417.0 815.4M432.8 822.2L432.4 822.6L432.3 823.4L432.1 823.5L432.0 824.3L432.4 825.0L432.4 826.7M432.0 824.3L432.9 824.4L434.0 823.7M412.6 809.8L413.7 809.7L414.0 809.3L414.2 809.4L414.6 809.7L416.3 809.1L417.0 808.6L417.7 808.1L417.6 807.6L417.9 807.5L419.3 807.6L420.6 806.9L421.7 805.4L422.4 804.8L423.3 804.5L423.4 805.2L424.3 806.0L424.3 806.6L424.0 807.2L424.1 807.6L424.6 808.0L425.7 808.7L426.5 809.2L426.5 809.7L427.4 810.4L428.0 811.0L428.4 811.9L429.4 812.5L429.7 812.9M423.3 804.5L423.3 804.2L422.8 803.8L422.8 803.0L422.5 802.4L422.0 802.5L422.1 802.0L422.5 801.4L422.3 800.8L422.8 800.4L422.5 800.0L422.9 799.2L423.5 798.1L424.7 798.2L424.7 792.6M425.7 808.7L424.7 808.1L425.2 808.0L425.7 807.7L426.0 806.4L426.4 805.8L427.4 805.6L427.7 806.0L428.4 806.8L428.8 806.9L429.3 806.7L430.3 806.7L430.5 807.0L431.9 807.0L432.0 806.7L432.7 806.5L432.8 806.0L433.4 805.7L434.6 806.6L435.3 806.4L436.0 805.4L436.8 804.6L436.6 803.8L436.3 803.4L437.2 803.3L437.3 803.0L437.9 803.1L437.7 804.1L437.9 805.1L438.6 805.7L438.8 806.2L438.8 806.9L439.0 806.9L439.0 808.0L438.8 808.4L438.0 808.5L437.5 809.3L438.4 809.4L439.1 810.1L439.4 810.6L440.0 811.0L440.9 812.5L439.9 813.4L439.0 814.3L438.2 814.9L437.2 814.9L436.0 815.3L435.1 815.0L434.5 815.3M439.0 806.8L439.4 805.3L440.1 804.9L440.2 804.3L440.8 803.2L441.7 802.5L442.2 801.1L442.5 799.9L442.3 799.3L442.9 797.3L443.1 796.3L443.5 795.9L444.5 795.7L445.3 794.8M442.5 799.9L444.1 800.2L444.6 799.1L445.4 799.8L446.2 799.5L446.6 799.8L447.6 799.8L448.8 800.3L449.2 800.8L449.8 801.3L450.4 802.1L450.8 802.6L450.3 803.2L449.9 803.9L450.0 804.2L450.0 804.7L450.8 804.7L451.1 804.6L451.4 804.8L452.0 804.1M451.4 804.8L451.1 805.4L451.7 806.1L452.2 806.8L452.7 807.3L457.3 809.0L458.5 809.0L454.5 813.2L452.7 813.3L451.4 814.3L450.5 814.3L450.1 814.8L449.2 814.8L448.6 814.3L447.3 814.9L446.9 815.5L445.9 815.4L445.6 815.2L445.3 815.2L444.9 815.2L443.1 814.0L442.1 814.0L441.6 813.5L441.6 812.7L440.9 812.5M450.1 814.8L448.9 816.4L448.9 821.5L449.8 822.7M439.0 814.3L439.7 815.3L439.9 816.0L440.5 817.6L440.0 818.6L439.3 819.6L438.9 820.1L438.9 821.6M439.4 776.1L440.3 778.6M378.2 761.1L378.7 760.7L379.3 760.5L379.6 761.2L380.5 761.2L380.7 761.0L381.5 761.1L381.9 761.8L381.3 762.2L381.2 763.3L381.0 763.5L381.0 764.1L380.3 764.3L380.9 765.1L380.5 766.0L381.0 766.4L380.8 766.8L380.3 767.4L380.4 767.8M388.3 758.9L388.8 759.4L391.4 760.1L391.9 759.8L393.5 760.4L395.2 760.2M401.5 758.5L401.6 757.9L400.9 757.7L400.5 756.6L401.0 756.2L400.6 755.7L400.6 755.3L400.1 754.6L399.5 754.9L399.5 754.2L400.5 753.4L400.5 753.1L401.1 753.2L401.5 753.0L401.7 752.0L402.4 751.0L400.4 750.7L399.7 750.4L399.3 750.4L399.0 750.3L397.7 749.6L397.0 749.7L396.0 749.1L395.4 748.5L394.7 748.5L394.5 748.0M395.6 747.7L396.7 747.8L398.0 747.5L398.9 748.1L399.7 748.5L399.5 749.4L399.1 749.5L399.0 750.3M399.5 749.4L399.8 749.7L399.7 750.4M399.7 748.5L399.4 747.0L400.3 747.0L400.6 746.4L401.0 745.1L400.7 744.7M403.0 742.6L404.1 742.8L405.0 742.5M410.9 744.3L411.2 745.0L410.8 745.4L411.4 745.9L411.7 746.6L411.6 747.1L412.2 748.0L411.6 748.2L411.2 748.0L410.8 748.3L409.8 748.6L409.3 748.9L408.3 749.2L408.5 749.6L408.7 750.2L409.4 750.6L410.2 751.2L409.7 751.8L409.2 752.0L409.4 752.9L409.2 753.2L408.8 752.9L408.1 752.8L407.1 753.1L405.9 753.0L405.7 753.4L405.0 753.0L404.5 753.1L403.0 752.7L402.7 753.0L401.5 753.0M400.6 755.3L401.2 755.6L401.9 755.5L402.7 755.0L403.0 755.2L403.6 755.2L403.9 754.6L405.0 754.8L405.6 754.6L405.7 754.0L405.0 753.9L404.4 753.7L404.6 753.3L404.5 753.1M405.7 754.0L406.6 754.2L406.7 753.9L408.1 753.7L408.5 754.2L410.5 754.5L410.3 755.2L410.7 755.8L410.4 756.0M410.2 751.2L411.2 751.6L412.0 751.1L412.5 750.9L413.6 751.4L414.3 751.3L414.9 751.6L414.8 751.8L415.0 752.2L414.8 752.8L414.1 752.8L414.3 753.1L413.9 754.0L413.6 754.3L412.4 754.3L411.6 754.6L410.5 754.5M412.2 748.0L412.9 748.5L413.9 748.6L413.8 749.0L414.6 749.3L414.8 748.9L415.8 749.1L415.9 749.5L417.0 749.6L417.6 750.3L417.7 750.4L418.3 750.2L419.0 750.7L419.8 750.4L420.5 750.5L421.5 750.3L422.9 750.9L423.2 751.0L422.8 750.3L424.1 749.2L424.8 749.0L424.9 748.6L424.2 747.4L424.2 746.7L423.8 746.1L424.6 745.8L424.6 745.2L424.2 744.7L424.2 744.1L423.8 743.6L423.1 743.5L420.5 743.5L418.8 743.3M423.1 743.5L423.0 743.1L423.1 742.7L422.5 742.5L421.0 742.3M424.2 744.1L425.5 744.1L427.1 743.5L427.4 742.7L428.6 742.3L428.4 741.6L427.1 741.0L426.3 740.9L426.1 740.6L424.7 740.7L422.3 740.6L420.7 741.1M428.4 741.6L429.3 741.4L430.8 740.9L430.3 740.0L430.2 739.4L429.5 739.0L428.4 739.0L427.2 738.5L426.5 738.3L425.3 738.6M429.5 739.0L430.2 738.6L429.7 737.3L430.7 736.4L430.5 736.2M430.8 740.9L432.3 741.2L432.5 741.6L433.2 741.4L434.6 741.7L434.7 742.4L434.5 742.8L435.3 743.7L435.9 744.0L435.8 744.2L436.8 744.5L437.2 744.9L436.6 745.2L435.5 745.1L435.2 745.2L435.6 745.7L435.9 746.6L434.7 746.7L434.3 747.0L434.2 747.7L433.6 747.6L432.3 747.7L431.9 747.3L431.4 747.6L430.9 747.4L429.8 747.3L428.2 747.0L426.8 746.9L425.7 746.9L424.9 747.3L424.2 747.4M435.9 746.6L436.4 746.7L436.8 746.4L437.2 746.4L438.7 746.3L439.6 747.1L439.2 747.4L439.3 747.8L440.5 747.9L441.0 748.5L441.0 748.8L442.8 749.3L443.8 749.1L444.7 749.7L445.5 749.7L447.6 750.2L447.6 750.6L447.1 751.3L447.4 752.1L447.2 752.6L445.8 752.7L445.1 753.1L445.0 753.7M422.9 750.9L422.5 751.2L422.2 751.8L423.0 752.2L423.1 752.6L423.7 752.3L424.6 752.4L425.5 752.4L426.1 752.8L426.6 752.6L427.6 752.4L428.0 752.1L428.6 752.1L428.9 751.9L429.9 751.8L430.9 752.2L431.5 752.2L432.1 752.6L432.0 753.1L432.6 753.3L432.8 753.9L433.2 754.3L433.1 754.5L433.4 754.7L433.0 754.8L432.2 754.7L432.1 754.5L431.8 754.6L431.9 754.9L431.5 755.3L431.2 755.8L430.9 756.0L431.5 756.2L432.2 756.0L432.8 756.3M430.9 756.0L430.6 755.3L430.8 754.7L430.7 754.1L429.9 753.3L429.5 752.7L429.0 752.2L428.6 752.1M415.0 752.2L415.7 752.6L416.2 752.8L417.4 752.6L417.5 752.3L418.1 752.3L418.8 752.0L418.9 752.1L419.6 752.0L419.9 751.6L420.4 751.5L421.9 752.0L422.2 751.8M414.9 751.6L415.1 751.3L415.8 751.3L416.2 751.1L416.3 751.0L416.5 750.9L416.6 750.6L417.0 750.6L417.2 750.3L417.6 750.3M423.1 752.6L422.2 752.9L421.5 753.8L420.7 754.8L419.5 755.1L418.7 755.0L417.6 755.4L417.1 755.6L415.9 755.3L414.8 754.7L414.4 754.5L414.1 754.1L413.9 754.0M419.5 755.1L420.3 755.6L420.5 756.1L421.3 756.4L421.4 757.0L422.3 757.4L422.7 757.1L423.1 757.3L422.7 757.5L423.0 757.7L423.4 758.3L423.9 758.2L425.0 758.4L427.1 758.5L427.8 758.2L429.5 757.8L430.5 758.3L431.3 758.5M423.0 757.7L422.6 758.1L422.8 758.6L423.5 759.2L422.9 759.6L422.7 760.1L422.8 760.3L422.6 760.5L423.3 760.9L423.4 761.8L424.5 761.9L425.6 761.5L426.6 762.0L427.9 761.9L427.9 761.1L429.3 760.7L430.5 760.9M427.9 761.9L428.6 761.5L428.1 762.4L427.8 762.6M419.4 764.3L420.1 763.6L420.2 763.1L420.6 762.9L420.7 762.5L421.6 762.4L422.1 762.1L422.9 762.1L423.1 761.9L423.4 761.8M418.2 760.6L418.9 759.9L419.3 760.1L419.6 760.5L420.0 760.6L420.1 761.1L419.9 761.6L420.1 762.2L420.7 762.5M410.4 756.0L411.3 756.0L411.6 755.8L412.1 756.0L412.6 756.0L412.6 755.6L413.1 755.5L413.3 754.9L414.4 754.5M417.8 756.9L418.3 756.9L418.0 757.5L418.7 758.0L418.5 758.7L418.1 758.8L417.9 758.9L417.4 759.2L417.2 760.0L415.9 759.4L415.4 758.9L414.9 758.5L414.2 758.0L413.9 757.6L413.2 756.9L413.5 756.3L414.0 756.7L414.3 756.4L415.0 756.3L416.2 756.6L417.2 756.5L417.8 756.9L418.4 756.3L417.9 755.9L417.6 755.4M418.1 758.8L418.5 759.0L418.7 759.2L419.2 759.3L419.7 759.6L419.6 759.8L419.3 760.1M420.1 761.1L420.3 761.1L420.3 760.8L421.1 760.6L421.5 760.6L421.9 760.5L422.6 760.5M419.7 759.6L419.9 759.7L420.1 759.2L420.4 759.1L420.6 759.3L420.8 759.4L421.0 759.6L421.3 759.7L421.5 759.9L421.8 759.9L421.6 760.3L421.4 760.5L421.5 760.6M417.2 760.0L417.0 760.2M406.5 737.1L407.2 736.3L408.3 735.3L408.8 733.6L407.9 732.9L407.8 731.0L408.7 729.7L410.1 729.7L410.6 729.2L410.1 728.7L412.3 726.7L413.7 725.1L414.7 724.1L416.0 724.1L416.4 723.3L419.1 723.6L419.3 722.6L420.2 722.6L421.0 722.2L422.6 722.9L424.4 722.9L425.9 723.2L427.3 722.6L428.0 721.5L430.2 721.1L432.0 721.6L431.4 722.6L432.5 722.5L433.4 721.9L434.9 721.9M420.2 722.6L422.0 723.3L424.2 724.2L424.3 726.4L424.7 726.9M431.4 722.6L431.2 723.6L433.3 724.6L432.0 725.6L433.7 727.2L432.7 728.4L434.0 729.5L433.4 730.4L435.5 731.4L435.0 732.1L433.7 732.9L430.6 734.7M380.2 742.3L380.5 743.1L380.2 743.8L381.1 743.8L382.2 744.1M447.5 758.9L448.8 759.0L450.9 759.2L452.8 759.9L453.1 760.1L453.9 759.9L455.3 760.2L455.7 760.8L456.6 761.1L457.0 761.1L457.9 762.0L458.6 762.1L458.8 761.7L459.7 761.2M449.7 761.6L451.2 761.5L452.6 762.2L454.5 762.0L454.9 761.7L455.9 762.1L456.7 762.2L456.9 762.1L456.2 761.3L456.6 761.1M452.6 762.2L452.8 762.7L452.7 763.4L453.7 763.7L454.3 764.1L454.6 764.1L455.0 764.5L455.6 764.5L456.2 765.5L456.7 765.5L458.4 764.4L458.9 764.3L459.3 764.7L458.8 765.4L459.7 766.2L460.1 766.1M454.5 762.0L454.8 762.3L455.4 762.6L455.1 762.9L455.8 763.4L455.5 763.9L456.0 764.3L456.7 764.5L456.7 765.5M454.3 764.1L453.3 764.5L453.8 766.2L453.5 766.6L454.3 767.7L453.6 768.0L453.1 767.6L451.4 767.4L450.8 767.6L449.2 767.9L448.5 767.8L446.8 768.4L445.7 768.4L444.9 768.1L443.4 768.5L442.9 768.2L442.8 769.0L442.5 769.3L442.1 769.6M450.8 767.6L450.1 768.5L449.3 768.9L449.5 769.9L448.9 771.6L445.8 773.1L443.0 774.6L441.5 774.0L441.6 773.8L441.6 773.2L442.0 772.5L442.7 771.9L442.5 771.4L441.9 771.3M441.6 773.2L441.2 773.3L441.1 773.5L440.6 773.5M441.5 774.0L441.2 774.5L441.2 775.4L441.0 775.8L440.3 778.6M440.4 778.8L442.0 779.0L442.6 778.6L442.9 778.1L444.0 777.9L444.2 777.4L444.7 777.2L443.3 775.7L446.1 775.0L446.4 774.8L445.8 773.1M446.4 774.8L448.1 775.2L450.2 776.2L454.2 779.0L456.8 779.1L458.1 779.3L458.4 780.0L459.4 779.9M456.8 779.1L457.8 777.8L458.8 777.9M454.3 767.7L455.2 769.4L456.1 769.8L456.2 770.7L455.5 771.2L455.2 772.3L456.2 773.6L457.9 774.4L458.6 775.5L458.4 776.5L458.8 776.5L458.8 777.2L459.6 778.0M451.4 797.2L452.1 796.7L451.9 796.1L452.3 795.4L452.9 795.8L453.3 795.7L454.9 795.7L455.2 795.8L456.5 795.9L457.1 795.9L457.4 796.3L458.1 796.1L459.1 794.6L460.4 794.0L464.5 793.4L468.7 792.0L469.7 789.2L469.0 788.2L468.7 788.5L464.5 787.8L464.0 786.3L463.9 786.0M464.5 793.4L465.6 795.8L466.1 796.8M469.0 788.2L469.1 787.6L469.5 787.0L469.5 786.5L470.1 786.2L469.9 786.0L470.0 785.1L470.7 785.1M470.5 783.9L470.2 783.4M462.8 785.3L463.2 785.6L463.6 785.5M467.2 767.7L468.4 767.4L469.5 766.6L470.4 766.6L471.0 766.4L472.0 766.5L473.6 767.2L474.7 767.4L476.3 768.6L477.4 768.7L477.5 769.9L476.9 771.7L476.6 772.7L477.2 772.9L476.6 773.7L477.0 774.8L477.1 775.7L478.2 775.9L478.3 776.8L477.0 778.1L477.7 778.9L478.3 779.7L479.7 780.3L479.7 781.6L480.4 781.8L480.5 782.5L478.4 783.2L477.9 784.8M477.0 778.1L479.4 778.8L480.8 778.6L481.7 778.8L482.0 778.5L482.9 778.6L484.8 778.0L484.8 776.8L485.6 776.0L486.7 776.0L486.8 775.6L487.9 775.5L488.4 775.6L489.0 775.2L488.9 774.3L489.5 773.5L490.4 773.1L489.8 772.2L491.2 772.2L491.6 771.7L491.5 771.2L492.2 770.6L492.1 769.9L491.7 769.3L492.6 768.7L494.1 768.4L495.7 768.2L496.4 767.9L497.2 767.8M477.5 769.9L479.0 770.4L480.0 770.2L480.3 769.6L481.4 769.4L482.2 769.0L482.5 767.8L483.7 767.5L483.9 767.0L484.6 767.4L485.0 767.5L485.8 767.5L486.9 767.8L487.3 767.9L488.3 767.5L488.8 767.8L489.3 767.1L490.1 767.1L490.3 766.9L490.5 766.4L491.1 765.9L491.9 766.2L491.7 766.6L492.1 766.7L492.0 767.9L492.5 768.3L493.0 768.0L493.7 767.9L494.6 767.3L495.5 767.4L497.0 767.4L497.2 767.8M487.4 786.8L488.3 785.9L491.4 785.9L491.1 784.6L490.3 783.9L490.2 782.8L489.3 782.2L490.8 780.7L492.5 780.8L493.9 779.3L494.8 777.9L496.2 776.5L496.2 775.5L497.4 774.7L496.2 774.0L495.7 773.0L495.2 771.8L495.9 771.2L498.1 771.5L499.7 771.3L501.0 770.1M497.2 767.8L498.3 768.4L498.7 769.5L501.0 770.1L502.5 771.8L502.4 772.9L503.0 773.6L502.9 774.4L501.9 774.2L502.3 775.7L503.7 776.6L505.7 777.6M515.6 780.9L516.4 780.6L516.5 781.7L516.6 782.0L517.9 782.5L518.8 782.3L520.0 782.4L521.1 782.3L521.2 781.5L520.6 781.0L521.8 780.8L523.1 779.8L524.7 778.9L525.9 779.2L526.9 778.7L527.5 779.5L527.1 780.1L528.6 780.3M516.5 781.7L517.5 780.6L518.3 780.3L519.3 780.6L520.0 780.6L520.6 781.0M522.0 789.1L521.3 786.9L520.9 786.9L520.6 787.8L519.9 787.1L520.3 786.3L520.9 786.2L521.6 785.0L520.8 784.7L519.5 784.8L518.1 784.6L518.0 783.6L517.3 783.5L516.2 782.9L515.7 783.9L516.7 784.6L515.8 785.1L515.5 785.7L516.4 786.0L516.1 786.9L516.6 787.9L516.9 789.1M532.5 791.4L533.1 791.9L533.2 792.7L534.2 792.8L533.8 794.3L533.9 795.5L535.4 794.7L535.8 794.9L536.6 794.9L536.9 794.4L538.0 794.5L539.0 795.7L539.1 797.1L540.3 798.3L540.2 799.5L539.8 800.1L538.4 799.9L536.6 800.2L535.7 801.4L536.0 803.1M539.8 800.1L540.9 800.7L541.6 799.7L542.8 800.2L543.1 801.2L543.0 802.8L540.6 803.9L541.2 804.8L539.7 804.9L538.5 805.5M542.8 800.2L543.1 798.8L542.7 797.8L541.6 796.8L540.8 795.6L539.6 793.9L537.9 793.0L538.3 792.6L539.2 792.2L538.6 790.9L536.9 790.9L536.3 789.6L535.4 788.5L534.7 788.7L534.9 790.4L534.2 790.3L534.0 790.0M535.4 788.5L536.2 788.2L537.3 788.2L538.7 788.0L539.9 787.3L540.6 787.8L541.9 788.1L541.7 788.9L542.3 789.5L543.8 789.8M532.5 811.2L532.7 810.9L533.9 811.5L534.0 812.3L534.9 812.1L535.4 811.5M546.0 817.5L546.3 818.4L547.2 819.2L548.2 818.9L549.1 819.0L549.9 818.3L550.6 818.2L551.9 818.6L553.0 818.3L553.8 816.3L554.3 815.8L554.8 814.2L556.4 814.2L557.7 814.4M552.5 813.9L553.0 814.6L553.4 814.1L554.1 814.2L554.1 813.3M590.4 824.0L590.4 833.2M567.7 832.9L567.9 833.6M515.0 750.6L515.4 751.6L516.6 752.3L518.6 752.9L519.6 754.0L519.1 755.6L519.6 756.3L521.2 756.5L523.1 756.7L524.9 757.6L525.7 757.7L526.4 759.0L527.2 759.9L528.8 759.8L531.7 760.2L533.6 760.0L535.0 760.2L537.1 761.0L538.8 761.0L539.4 761.5L541.0 760.7L543.3 760.2L545.4 760.2L547.1 759.7L548.1 758.9L549.1 758.4L548.9 758.0L548.4 757.4L549.2 756.5L550.0 756.6L551.4 756.9L552.8 756.2L555.0 755.6L556.0 754.7L557.0 754.3L559.1 754.1L560.2 754.3L560.3 753.8L559.1 752.8L557.9 752.3L556.8 752.8L555.4 752.6L554.6 752.8L554.3 752.2L555.3 750.8L556.0 749.7M514.5 750.7L515.0 750.6L516.5 750.3L519.2 749.1L521.4 748.5L522.6 748.9L524.1 748.9L525.0 749.6L526.4 749.6L528.5 750.0L529.9 749.0L529.3 748.2L530.8 746.7L532.3 747.3L533.6 747.4L535.3 747.8L535.6 748.9L537.6 749.5L538.9 749.2L540.7 749.0L542.1 749.2L543.5 749.9L544.4 750.6L545.7 750.6L547.4 750.8L548.7 750.5L550.6 750.2L552.7 749.2L553.5 749.4L554.3 749.9L556.0 749.7L557.7 750.3L559.6 749.4L559.6 748.8L560.9 747.3L561.7 746.8L561.7 746.0L560.9 745.7L562.1 745.0L563.8 744.7L565.7 744.7L567.8 745.1L569.1 745.6L569.9 747.1L570.5 747.7L571.0 748.5L571.5 749.9L573.9 750.4L575.6 751.4L576.2 752.7L578.3 752.7L579.6 752.2L581.9 751.7L581.2 753.0L580.6 753.5L580.1 755.1L579.2 756.5L577.5 756.2L576.3 756.7L576.6 757.9L576.4 759.6L575.7 759.6L575.7 760.3M575.7 760.3L574.8 759.5L574.2 760.3L572.0 760.9L572.3 761.7L571.0 761.6L570.4 761.2L569.4 762.2L567.8 762.9L566.7 763.8M569.4 766.9L569.5 766.8L570.1 766.8L570.7 766.2L571.7 766.1L572.3 766.0L572.5 765.7M460.4 754.7L459.7 754.5L459.8 753.7L458.9 752.8L457.9 752.8L456.7 751.9L457.5 750.8L457.1 750.5L458.2 749.0L459.7 749.8L459.8 748.7L462.7 747.2L465.0 747.2L468.1 748.1L469.7 748.7L471.2 748.1L473.5 748.1L475.3 748.8L475.7 748.4L477.7 748.5L478.1 747.8L475.8 746.8L477.1 746.1L476.8 745.7L478.2 745.4L477.2 744.4L477.8 743.9L483.1 743.4L483.8 743.1L487.4 742.6L488.6 742.0L491.2 742.3L491.6 743.7L493.1 743.4L494.9 743.9L494.8 744.7L496.1 744.6L499.7 743.2L499.2 743.7L501.0 744.8L504.1 748.4L504.9 747.6L506.8 748.4L508.9 748.1L509.7 748.3L510.3 749.2L511.3 749.4L511.9 750.0L513.7 749.8L514.5 750.7L513.4 751.6L512.2 751.8L512.2 753.2L511.4 753.8L508.6 753.4L507.6 755.9L506.8 756.2L504.0 756.8L505.3 759.2L504.3 759.6L504.5 760.4M504.5 760.4L503.6 760.2L502.9 759.7L500.8 759.5L498.4 759.5L497.9 759.7L495.9 759.1L495.1 759.4L494.9 760.2L492.5 759.7L491.6 759.9L491.3 760.5L490.5 760.8L488.6 761.8L488.0 762.8L487.5 762.8L487.1 762.1L485.3 762.1L485.0 760.9L484.3 760.9L484.4 759.5L482.7 758.5L480.3 758.6L478.6 758.8L477.3 757.5L476.1 757.0L473.9 756.0L473.7 755.8L470.0 756.7L470.1 761.9L469.4 762.0L468.4 760.8L467.4 760.5L465.8 760.7L465.2 761.2M470.1 761.9L471.7 761.9L471.5 761.1L472.7 760.7L473.9 759.8L475.8 760.6L475.9 761.7L476.5 762.0L478.0 761.9L478.5 762.2L479.2 763.7L480.8 764.6L481.7 765.3L483.2 766.0L485.1 766.6L485.0 767.5M486.9 767.8L487.7 766.3L487.4 765.3L486.3 764.9L486.7 764.3L487.9 764.4L488.5 763.6L489.0 762.7L490.9 762.4L490.6 763.0L490.8 763.4L491.4 763.4L490.9 763.8L489.3 763.6L489.2 764.4L490.7 764.3L492.5 764.8L495.1 764.5L495.3 763.9L496.7 763.2L497.7 762.9L499.2 763.1L499.7 762.2L501.5 762.0L502.0 761.5L504.3 760.7L504.5 760.4M495.1 764.5L495.5 765.8L496.0 765.7L496.8 766.0L496.8 766.6L497.0 767.4M491.4 763.4L492.4 763.5L494.3 762.5L492.6 761.8L491.6 762.1L490.5 761.6L491.7 760.7L491.3 760.5M293.9 894.3L292.7 894.0L289.3 893.8L288.7 893.0L288.7 892.0L287.7 892.0L287.3 891.6L287.1 890.0L288.3 889.5L288.7 888.5L288.6 887.8L289.3 886.6L289.7 884.8L289.6 883.8L290.3 883.7L290.1 883.1L289.4 882.8L289.8 882.2L289.3 881.7L289.0 880.1L289.6 879.8L289.3 878.0L289.6 876.6L290.0 875.3L290.8 874.9L290.4 873.5L290.4 872.2L291.4 871.2L291.4 870.1L292.2 868.7L292.2 867.4L291.8 867.1L291.2 864.7L292.1 863.2L292.0 861.9L292.4 860.6L293.4 859.2L294.4 858.3L293.9 857.8L294.2 857.4L294.2 854.9L295.8 854.2L296.2 852.8L296.1 852.4L295.1 852.7L294.5 850.7L293.7 849.1L294.2 847.7L293.4 846.5L292.5 845.2L292.1 845.9L291.4 846.2" fill="none" stroke="#000" stroke-width="1.2000000000000002" stroke-linejoin="round" stroke-linecap="round"/>
</g>
<text class="lab" x="83.6" y="966.6">c.</text>
<!-- bottom legend -->
<rect x="0" y="992.3" width="21.6" height="9.8" fill="#ff0000"/>
<text class="ser" x="29.2" y="1007.3" style="font-size:15.85px">Highest EAPC of rabies</text>
<rect x="200.8" y="992.3" width="21.6" height="9.8" fill="#ff9f9f"/>
<text class="ser" x="235" y="1007.3" style="font-size:15.85px">Affected</text>
<text class="ser" x="201.3" y="1025.2" style="font-size:15.85px">Regions</text>
<rect x="358.8" y="992.3" width="21.8" height="9.8" fill="#00ffff"/>
<text class="ser" x="393.0" y="1007.3" style="font-size:15.85px">Fastest decline in</text>
<text class="ser" x="359" y="1025.2" style="font-size:15.85px">EAPC</text>
<rect x="558" y="992.3" width="22.4" height="9.8" fill="#009999"/>
<text class="ser" x="593.3" y="1007.3" style="font-size:15.85px">Other Regions</text>
</svg>
</body></html>
